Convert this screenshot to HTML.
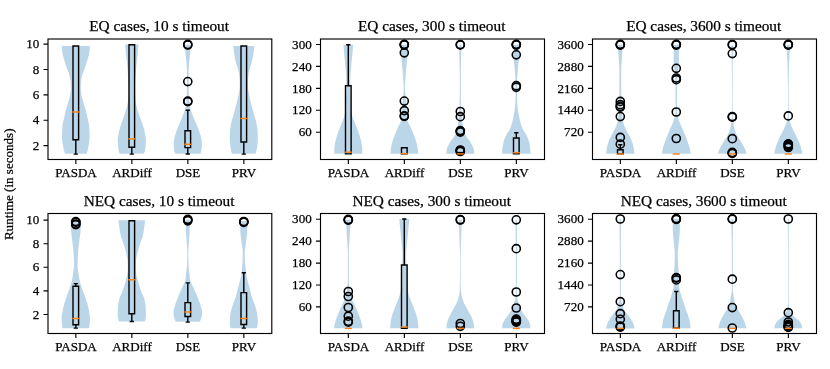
<!DOCTYPE html>
<html lang="en"><head><meta charset="utf-8"><title>Runtime violin plots</title>
<style>html,body{margin:0;padding:0;background:#fff}svg{display:block}text{font-family:"Liberation Serif",serif;fill:#000;stroke:#000;stroke-width:0.25px}</style>
</head><body>
<svg width="830" height="369" viewBox="0 0 830 369">
<rect width="830" height="369" fill="#fff"/>
<text transform="translate(12.7,184.3) rotate(-90)" text-anchor="middle" font-size="13.05">Runtime (in seconds)</text>
<g>
<text x="159.1" y="31.3" text-anchor="middle" font-size="15.3">EQ cases, 10 s timeout</text>
<path d="M61.80,46.00L61.82,47.00L61.87,48.00L61.93,49.00L62.00,50.00L62.10,51.00L62.23,52.00L62.39,53.00L62.56,54.00L62.76,55.00L63.01,56.00L63.29,57.00L63.59,58.00L63.91,59.00L64.22,60.00L64.53,61.00L64.84,62.00L65.15,63.00L65.47,64.00L65.80,65.00L66.13,66.00L66.46,67.00L66.80,68.00L67.15,69.00L67.53,70.00L67.91,71.00L68.29,72.00L68.65,73.00L68.97,74.00L69.25,75.00L69.52,76.00L69.79,77.00L70.04,78.00L70.26,79.00L70.44,80.00L70.56,81.00L70.63,82.00L70.67,83.00L70.71,84.00L70.75,85.00L70.77,86.00L70.79,87.00L70.80,88.00L70.79,89.00L70.73,90.00L70.63,91.00L70.52,92.00L70.40,93.00L70.26,94.00L70.08,95.00L69.86,96.00L69.63,97.00L69.39,98.00L69.15,99.00L68.90,100.00L68.62,101.00L68.34,102.00L68.04,103.00L67.74,104.00L67.45,105.00L67.15,106.00L66.85,107.00L66.54,108.00L66.23,109.00L65.93,110.00L65.64,111.00L65.37,112.00L65.14,113.00L64.92,114.00L64.71,115.00L64.51,116.00L64.30,117.00L64.07,118.00L63.83,119.00L63.58,120.00L63.35,121.00L63.14,122.00L62.97,123.00L62.81,124.00L62.67,125.00L62.53,126.00L62.41,127.00L62.30,128.00L62.23,129.00L62.18,130.00L62.13,131.00L62.09,132.00L62.06,133.00L62.03,134.00L62.01,135.00L62.00,136.00L62.01,137.00L62.05,138.00L62.12,139.00L62.21,140.00L62.30,141.00L62.41,142.00L62.56,143.00L62.73,144.00L62.90,145.00L63.07,146.00L63.26,147.00L63.45,148.00L63.66,149.00L63.90,150.00L64.17,151.00L64.48,152.00L64.81,153.00L65.10,153.80L86.50,153.80L86.79,153.00L87.12,152.00L87.43,151.00L87.70,150.00L87.94,149.00L88.15,148.00L88.34,147.00L88.53,146.00L88.70,145.00L88.87,144.00L89.04,143.00L89.19,142.00L89.30,141.00L89.39,140.00L89.48,139.00L89.55,138.00L89.59,137.00L89.60,136.00L89.59,135.00L89.57,134.00L89.54,133.00L89.51,132.00L89.47,131.00L89.42,130.00L89.37,129.00L89.30,128.00L89.19,127.00L89.07,126.00L88.93,125.00L88.79,124.00L88.63,123.00L88.46,122.00L88.25,121.00L88.02,120.00L87.77,119.00L87.53,118.00L87.30,117.00L87.09,116.00L86.89,115.00L86.68,114.00L86.46,113.00L86.23,112.00L85.96,111.00L85.67,110.00L85.37,109.00L85.06,108.00L84.75,107.00L84.45,106.00L84.15,105.00L83.86,104.00L83.56,103.00L83.26,102.00L82.98,101.00L82.70,100.00L82.45,99.00L82.21,98.00L81.97,97.00L81.74,96.00L81.52,95.00L81.34,94.00L81.20,93.00L81.08,92.00L80.97,91.00L80.87,90.00L80.81,89.00L80.80,88.00L80.81,87.00L80.83,86.00L80.85,85.00L80.89,84.00L80.93,83.00L80.97,82.00L81.04,81.00L81.16,80.00L81.34,79.00L81.56,78.00L81.81,77.00L82.08,76.00L82.35,75.00L82.63,74.00L82.95,73.00L83.31,72.00L83.69,71.00L84.07,70.00L84.45,69.00L84.80,68.00L85.14,67.00L85.47,66.00L85.80,65.00L86.13,64.00L86.45,63.00L86.76,62.00L87.07,61.00L87.38,60.00L87.69,59.00L88.01,58.00L88.31,57.00L88.59,56.00L88.84,55.00L89.04,54.00L89.21,53.00L89.37,52.00L89.50,51.00L89.60,50.00L89.67,49.00L89.73,48.00L89.78,47.00L89.80,46.00Z" fill="#bcd6e9"/>
<path d="M125.20,44.40L125.26,45.40L125.33,46.40L125.40,47.40L125.47,48.40L125.55,49.40L125.63,50.40L125.72,51.40L125.81,52.40L125.91,53.40L126.01,54.40L126.11,55.40L126.22,56.40L126.35,57.40L126.47,58.40L126.60,59.40L126.72,60.40L126.84,61.40L126.94,62.40L127.03,63.40L127.12,64.40L127.21,65.40L127.29,66.40L127.37,67.40L127.45,68.40L127.53,69.40L127.62,70.40L127.71,71.40L127.80,72.40L127.89,73.40L127.98,74.40L128.07,75.40L128.15,76.40L128.23,77.40L128.30,78.40L128.37,79.40L128.42,80.40L128.48,81.40L128.53,82.40L128.59,83.40L128.64,84.40L128.69,85.40L128.73,86.40L128.76,87.40L128.78,88.40L128.80,89.40L128.80,90.40L128.78,91.40L128.75,92.40L128.71,93.40L128.65,94.40L128.59,95.40L128.51,96.40L128.44,97.40L128.35,98.40L128.26,99.40L128.14,100.40L127.99,101.40L127.81,102.40L127.61,103.40L127.40,104.40L127.17,105.40L126.94,106.40L126.71,107.40L126.45,108.40L126.18,109.40L125.88,110.40L125.57,111.40L125.26,112.40L124.93,113.40L124.60,114.40L124.27,115.40L123.92,116.40L123.56,117.40L123.18,118.40L122.80,119.40L122.42,120.40L122.05,121.40L121.70,122.40L121.37,123.40L121.04,124.40L120.71,125.40L120.38,126.40L120.06,127.40L119.77,128.40L119.49,129.40L119.24,130.40L119.02,131.40L118.82,132.40L118.62,133.40L118.42,134.40L118.23,135.40L118.07,136.40L117.94,137.40L117.85,138.40L117.80,139.40L117.80,140.40L117.82,141.40L117.85,142.40L117.89,143.40L117.95,144.40L118.01,145.40L118.09,146.40L118.17,147.40L118.27,148.40L118.44,149.40L118.68,150.40L118.98,151.40L119.31,152.40L119.66,153.40L119.80,153.80L143.80,153.80L143.94,153.40L144.29,152.40L144.62,151.40L144.92,150.40L145.16,149.40L145.33,148.40L145.43,147.40L145.51,146.40L145.59,145.40L145.65,144.40L145.71,143.40L145.75,142.40L145.78,141.40L145.80,140.40L145.80,139.40L145.75,138.40L145.66,137.40L145.53,136.40L145.37,135.40L145.18,134.40L144.98,133.40L144.78,132.40L144.58,131.40L144.36,130.40L144.11,129.40L143.83,128.40L143.54,127.40L143.22,126.40L142.89,125.40L142.56,124.40L142.23,123.40L141.90,122.40L141.55,121.40L141.18,120.40L140.80,119.40L140.42,118.40L140.04,117.40L139.68,116.40L139.33,115.40L139.00,114.40L138.67,113.40L138.34,112.40L138.03,111.40L137.72,110.40L137.42,109.40L137.15,108.40L136.89,107.40L136.66,106.40L136.43,105.40L136.20,104.40L135.99,103.40L135.79,102.40L135.61,101.40L135.46,100.40L135.34,99.40L135.25,98.40L135.16,97.40L135.09,96.40L135.01,95.40L134.95,94.40L134.89,93.40L134.85,92.40L134.82,91.40L134.80,90.40L134.80,89.40L134.82,88.40L134.84,87.40L134.87,86.40L134.91,85.40L134.96,84.40L135.01,83.40L135.07,82.40L135.12,81.40L135.18,80.40L135.23,79.40L135.30,78.40L135.37,77.40L135.45,76.40L135.53,75.40L135.62,74.40L135.71,73.40L135.80,72.40L135.89,71.40L135.98,70.40L136.07,69.40L136.15,68.40L136.23,67.40L136.31,66.40L136.39,65.40L136.48,64.40L136.57,63.40L136.66,62.40L136.76,61.40L136.88,60.40L137.00,59.40L137.13,58.40L137.25,57.40L137.38,56.40L137.49,55.40L137.59,54.40L137.69,53.40L137.79,52.40L137.88,51.40L137.97,50.40L138.05,49.40L138.13,48.40L138.20,47.40L138.27,46.40L138.34,45.40L138.40,44.40Z" fill="#bcd6e9"/>
<path d="M184.60,44.70L184.70,45.70L184.80,46.70L184.90,47.70L185.00,48.70L185.10,49.70L185.20,50.70L185.29,51.70L185.39,52.70L185.48,53.70L185.57,54.70L185.67,55.70L185.77,56.70L185.87,57.70L185.98,58.70L186.09,59.70L186.21,60.70L186.32,61.70L186.43,62.70L186.53,63.70L186.63,64.70L186.72,65.70L186.80,66.70L186.87,67.70L186.93,68.70L186.97,69.70L186.99,70.70L187.00,71.70L187.00,72.70L187.00,73.70L187.00,74.70L187.00,75.70L187.00,76.70L187.00,77.70L187.00,78.70L187.00,79.70L187.00,80.70L187.00,81.70L187.00,82.70L186.99,83.70L186.98,84.70L186.97,85.70L186.96,86.70L186.95,87.70L186.93,88.70L186.91,89.70L186.89,90.70L186.87,91.70L186.85,92.70L186.83,93.70L186.81,94.70L186.78,95.70L186.75,96.70L186.70,97.70L186.65,98.70L186.59,99.70L186.52,100.70L186.44,101.70L186.32,102.70L186.17,103.70L185.99,104.70L185.80,105.70L185.59,106.70L185.37,107.70L185.13,108.70L184.86,109.70L184.55,110.70L184.21,111.70L183.86,112.70L183.50,113.70L183.14,114.70L182.77,115.70L182.38,116.70L181.98,117.70L181.57,118.70L181.15,119.70L180.73,120.70L180.32,121.70L179.89,122.70L179.46,123.70L179.02,124.70L178.58,125.70L178.15,126.70L177.74,127.70L177.34,128.70L176.96,129.70L176.59,130.70L176.24,131.70L175.90,132.70L175.57,133.70L175.23,134.70L174.91,135.70L174.63,136.70L174.42,137.70L174.26,138.70L174.11,139.70L173.97,140.70L173.86,141.70L173.77,142.70L173.71,143.70L173.70,144.70L173.73,145.70L173.80,146.70L173.90,147.70L174.02,148.70L174.16,149.70L174.32,150.70L174.55,151.70L174.84,152.70L175.17,153.70L175.20,153.80L200.40,153.80L200.43,153.70L200.76,152.70L201.05,151.70L201.28,150.70L201.44,149.70L201.58,148.70L201.70,147.70L201.80,146.70L201.87,145.70L201.90,144.70L201.89,143.70L201.83,142.70L201.74,141.70L201.63,140.70L201.49,139.70L201.34,138.70L201.18,137.70L200.97,136.70L200.69,135.70L200.37,134.70L200.03,133.70L199.70,132.70L199.36,131.70L199.01,130.70L198.64,129.70L198.26,128.70L197.86,127.70L197.45,126.70L197.02,125.70L196.58,124.70L196.14,123.70L195.71,122.70L195.28,121.70L194.87,120.70L194.45,119.70L194.03,118.70L193.62,117.70L193.22,116.70L192.83,115.70L192.46,114.70L192.10,113.70L191.74,112.70L191.39,111.70L191.05,110.70L190.74,109.70L190.47,108.70L190.23,107.70L190.01,106.70L189.80,105.70L189.61,104.70L189.43,103.70L189.28,102.70L189.16,101.70L189.08,100.70L189.01,99.70L188.95,98.70L188.90,97.70L188.85,96.70L188.82,95.70L188.79,94.70L188.77,93.70L188.75,92.70L188.73,91.70L188.71,90.70L188.69,89.70L188.67,88.70L188.65,87.70L188.64,86.70L188.63,85.70L188.62,84.70L188.61,83.70L188.60,82.70L188.60,81.70L188.60,80.70L188.60,79.70L188.60,78.70L188.60,77.70L188.60,76.70L188.60,75.70L188.60,74.70L188.60,73.70L188.60,72.70L188.60,71.70L188.61,70.70L188.63,69.70L188.67,68.70L188.73,67.70L188.80,66.70L188.88,65.70L188.97,64.70L189.07,63.70L189.17,62.70L189.28,61.70L189.39,60.70L189.51,59.70L189.62,58.70L189.73,57.70L189.83,56.70L189.93,55.70L190.03,54.70L190.12,53.70L190.21,52.70L190.31,51.70L190.40,50.70L190.50,49.70L190.60,48.70L190.70,47.70L190.80,46.70L190.90,45.70L191.00,44.70Z" fill="#bcd6e9"/>
<path d="M233.40,46.00L233.42,47.00L233.46,48.00L233.53,49.00L233.60,50.00L233.70,51.00L233.85,52.00L234.03,53.00L234.22,54.00L234.40,55.00L234.58,56.00L234.76,57.00L234.95,58.00L235.14,59.00L235.35,60.00L235.57,61.00L235.80,62.00L236.07,63.00L236.38,64.00L236.72,65.00L237.06,66.00L237.39,67.00L237.69,68.00L237.95,69.00L238.19,70.00L238.42,71.00L238.64,72.00L238.84,73.00L239.01,74.00L239.15,75.00L239.24,76.00L239.33,77.00L239.41,78.00L239.48,79.00L239.54,80.00L239.58,81.00L239.60,82.00L239.60,83.00L239.60,84.00L239.60,85.00L239.60,86.00L239.60,87.00L239.57,88.00L239.48,89.00L239.35,90.00L239.19,91.00L239.03,92.00L238.87,93.00L238.70,94.00L238.51,95.00L238.30,96.00L238.07,97.00L237.85,98.00L237.61,99.00L237.39,100.00L237.15,101.00L236.91,102.00L236.66,103.00L236.40,104.00L236.14,105.00L235.88,106.00L235.61,107.00L235.34,108.00L235.06,109.00L234.78,110.00L234.50,111.00L234.22,112.00L233.95,113.00L233.67,114.00L233.40,115.00L233.12,116.00L232.82,117.00L232.51,118.00L232.21,119.00L231.92,120.00L231.65,121.00L231.41,122.00L231.20,123.00L231.01,124.00L230.83,125.00L230.65,126.00L230.48,127.00L230.33,128.00L230.20,129.00L230.10,130.00L230.03,131.00L229.98,132.00L229.94,133.00L229.91,134.00L229.87,135.00L229.85,136.00L229.83,137.00L229.81,138.00L229.80,139.00L229.80,140.00L229.83,141.00L229.90,142.00L229.99,143.00L230.10,144.00L230.23,145.00L230.36,146.00L230.50,147.00L230.65,148.00L230.83,149.00L231.04,150.00L231.27,151.00L231.51,152.00L231.78,153.00L232.00,153.80L255.60,153.80L255.82,153.00L256.09,152.00L256.33,151.00L256.56,150.00L256.77,149.00L256.95,148.00L257.10,147.00L257.24,146.00L257.37,145.00L257.50,144.00L257.61,143.00L257.70,142.00L257.77,141.00L257.80,140.00L257.80,139.00L257.79,138.00L257.77,137.00L257.75,136.00L257.73,135.00L257.69,134.00L257.66,133.00L257.62,132.00L257.57,131.00L257.50,130.00L257.40,129.00L257.27,128.00L257.12,127.00L256.95,126.00L256.77,125.00L256.59,124.00L256.40,123.00L256.19,122.00L255.95,121.00L255.68,120.00L255.39,119.00L255.09,118.00L254.78,117.00L254.48,116.00L254.20,115.00L253.93,114.00L253.65,113.00L253.38,112.00L253.10,111.00L252.82,110.00L252.54,109.00L252.26,108.00L251.99,107.00L251.72,106.00L251.46,105.00L251.20,104.00L250.94,103.00L250.69,102.00L250.45,101.00L250.21,100.00L249.99,99.00L249.75,98.00L249.53,97.00L249.30,96.00L249.09,95.00L248.90,94.00L248.73,93.00L248.57,92.00L248.41,91.00L248.25,90.00L248.12,89.00L248.03,88.00L248.00,87.00L248.00,86.00L248.00,85.00L248.00,84.00L248.00,83.00L248.00,82.00L248.02,81.00L248.06,80.00L248.12,79.00L248.19,78.00L248.27,77.00L248.36,76.00L248.45,75.00L248.59,74.00L248.76,73.00L248.96,72.00L249.18,71.00L249.41,70.00L249.65,69.00L249.91,68.00L250.21,67.00L250.54,66.00L250.88,65.00L251.22,64.00L251.53,63.00L251.80,62.00L252.03,61.00L252.25,60.00L252.46,59.00L252.65,58.00L252.84,57.00L253.02,56.00L253.20,55.00L253.38,54.00L253.57,53.00L253.75,52.00L253.90,51.00L254.00,50.00L254.07,49.00L254.14,48.00L254.18,47.00L254.20,46.00Z" fill="#bcd6e9"/>
<path d="M75.80,139.80V154.10M74.40,46.00H77.20M74.40,154.10H77.20M73.00,139.80H78.60V46.00H73.00Z" fill="none" stroke="#000" stroke-width="1.42" stroke-linecap="square" stroke-linejoin="miter"/>
<path d="M73.00,112.00H78.60" stroke="#ff7f0e" stroke-width="1.42" stroke-linecap="square" fill="none"/>
<path d="M131.80,147.30V154.10M130.40,44.80H133.20M130.40,154.10H133.20M129.00,147.30H134.60V44.80H129.00Z" fill="none" stroke="#000" stroke-width="1.42" stroke-linecap="square" stroke-linejoin="miter"/>
<path d="M129.00,138.80H134.60" stroke="#ff7f0e" stroke-width="1.42" stroke-linecap="square" fill="none"/>
<path d="M187.80,130.70V110.20M187.80,147.60V154.00M186.40,110.20H189.20M186.40,154.00H189.20M185.00,147.60H190.60V130.70H185.00Z" fill="none" stroke="#000" stroke-width="1.42" stroke-linecap="square" stroke-linejoin="miter"/>
<circle cx="187.80" cy="44.40" r="4.05" fill="none" stroke="#000" stroke-width="1.58"/>
<circle cx="187.80" cy="45.00" r="4.05" fill="none" stroke="#000" stroke-width="1.58"/>
<circle cx="187.80" cy="81.60" r="4.05" fill="none" stroke="#000" stroke-width="1.58"/>
<circle cx="187.80" cy="101.10" r="4.05" fill="none" stroke="#000" stroke-width="1.58"/>
<circle cx="187.80" cy="101.70" r="4.05" fill="none" stroke="#000" stroke-width="1.58"/>
<path d="M185.00,144.30H190.60" stroke="#ff7f0e" stroke-width="1.42" stroke-linecap="square" fill="none"/>
<path d="M243.80,142.00V154.10M242.40,46.00H245.20M242.40,154.10H245.20M241.00,142.00H246.60V46.00H241.00Z" fill="none" stroke="#000" stroke-width="1.42" stroke-linecap="square" stroke-linejoin="miter"/>
<path d="M241.00,118.50H246.60" stroke="#ff7f0e" stroke-width="1.42" stroke-linecap="square" fill="none"/>
<path d="M48.00,44.10h-4.5M48.00,69.50h-4.5M48.00,94.85h-4.5M48.00,120.20h-4.5M48.00,145.60h-4.5M75.85,159.50v4.4M131.85,159.50v4.4M187.85,159.50v4.4M243.85,159.50v4.4" stroke="#000" stroke-width="1.14" fill="none"/>
<text x="39.2" y="48.25" text-anchor="end" font-size="13.05">10</text>
<text x="39.2" y="73.65" text-anchor="end" font-size="13.05">8</text>
<text x="39.2" y="99.00" text-anchor="end" font-size="13.05">6</text>
<text x="39.2" y="124.35" text-anchor="end" font-size="13.05">4</text>
<text x="39.2" y="149.75" text-anchor="end" font-size="13.05">2</text>
<text x="76.0" y="177.2" text-anchor="middle" font-size="13.05">PASDA</text>
<text x="132.0" y="177.2" text-anchor="middle" font-size="13.05">ARDiff</text>
<text x="188.0" y="177.2" text-anchor="middle" font-size="13.05">DSE</text>
<text x="244.0" y="177.2" text-anchor="middle" font-size="13.05">PRV</text>
<rect x="48.00" y="39.00" width="223.80" height="120.50" fill="none" stroke="#000" stroke-width="1.14"/>
</g>
<g>
<text x="431.7" y="31.3" text-anchor="middle" font-size="15.3">EQ cases, 300 s timeout</text>
<path d="M343.40,44.70L343.48,45.70L343.56,46.70L343.65,47.70L343.73,48.70L343.82,49.70L343.91,50.70L344.00,51.70L344.09,52.70L344.18,53.70L344.27,54.70L344.37,55.70L344.47,56.70L344.57,57.70L344.68,58.70L344.78,59.70L344.89,60.70L344.99,61.70L345.09,62.70L345.19,63.70L345.27,64.70L345.36,65.70L345.45,66.70L345.54,67.70L345.63,68.70L345.72,69.70L345.81,70.70L345.90,71.70L345.98,72.70L346.06,73.70L346.13,74.70L346.19,75.70L346.24,76.70L346.27,77.70L346.29,78.70L346.30,79.70L346.30,80.70L346.30,81.70L346.29,82.70L346.28,83.70L346.27,84.70L346.26,85.70L346.25,86.70L346.23,87.70L346.22,88.70L346.20,89.70L346.18,90.70L346.16,91.70L346.14,92.70L346.12,93.70L346.10,94.70L346.08,95.70L346.05,96.70L346.03,97.70L346.01,98.70L345.98,99.70L345.96,100.70L345.93,101.70L345.89,102.70L345.85,103.70L345.81,104.70L345.77,105.70L345.71,106.70L345.66,107.70L345.59,108.70L345.52,109.70L345.44,110.70L345.31,111.70L345.15,112.70L344.96,113.70L344.74,114.70L344.46,115.70L344.14,116.70L343.79,117.70L343.44,118.70L343.07,119.70L342.68,120.70L342.27,121.70L341.85,122.70L341.43,123.70L341.02,124.70L340.62,125.70L340.23,126.70L339.83,127.70L339.44,128.70L339.05,129.70L338.67,130.70L338.31,131.70L337.96,132.70L337.63,133.70L337.30,134.70L336.99,135.70L336.69,136.70L336.40,137.70L336.11,138.70L335.84,139.70L335.59,140.70L335.36,141.70L335.16,142.70L334.96,143.70L334.77,144.70L334.60,145.70L334.47,146.70L334.40,147.70L334.37,148.70L334.35,149.70L334.33,150.70L334.31,151.70L334.30,152.70L334.30,153.70L334.30,153.80L362.30,153.80L362.30,153.70L362.30,152.70L362.29,151.70L362.27,150.70L362.25,149.70L362.23,148.70L362.20,147.70L362.13,146.70L362.00,145.70L361.83,144.70L361.64,143.70L361.44,142.70L361.24,141.70L361.01,140.70L360.76,139.70L360.49,138.70L360.20,137.70L359.91,136.70L359.61,135.70L359.30,134.70L358.97,133.70L358.64,132.70L358.29,131.70L357.93,130.70L357.55,129.70L357.16,128.70L356.77,127.70L356.37,126.70L355.98,125.70L355.58,124.70L355.17,123.70L354.75,122.70L354.33,121.70L353.92,120.70L353.53,119.70L353.16,118.70L352.81,117.70L352.46,116.70L352.14,115.70L351.86,114.70L351.64,113.70L351.45,112.70L351.29,111.70L351.16,110.70L351.08,109.70L351.01,108.70L350.94,107.70L350.89,106.70L350.83,105.70L350.79,104.70L350.75,103.70L350.71,102.70L350.67,101.70L350.64,100.70L350.62,99.70L350.59,98.70L350.57,97.70L350.55,96.70L350.52,95.70L350.50,94.70L350.48,93.70L350.46,92.70L350.44,91.70L350.42,90.70L350.40,89.70L350.38,88.70L350.37,87.70L350.35,86.70L350.34,85.70L350.33,84.70L350.32,83.70L350.31,82.70L350.30,81.70L350.30,80.70L350.30,79.70L350.31,78.70L350.33,77.70L350.36,76.70L350.41,75.70L350.47,74.70L350.54,73.70L350.62,72.70L350.70,71.70L350.79,70.70L350.88,69.70L350.97,68.70L351.06,67.70L351.15,66.70L351.24,65.70L351.33,64.70L351.41,63.70L351.51,62.70L351.61,61.70L351.71,60.70L351.82,59.70L351.92,58.70L352.03,57.70L352.13,56.70L352.23,55.70L352.33,54.70L352.42,53.70L352.51,52.70L352.60,51.70L352.69,50.70L352.78,49.70L352.87,48.70L352.95,47.70L353.04,46.70L353.12,45.70L353.20,44.70Z" fill="#bcd6e9"/>
<path d="M400.70,44.70L400.71,45.70L400.73,46.70L400.76,47.70L400.79,48.70L400.83,49.70L400.88,50.70L400.92,51.70L400.97,52.70L401.03,53.70L401.08,54.70L401.14,55.70L401.22,56.70L401.31,57.70L401.41,58.70L401.52,59.70L401.64,60.70L401.75,61.70L401.87,62.70L401.97,63.70L402.07,64.70L402.16,65.70L402.25,66.70L402.34,67.70L402.43,68.70L402.52,69.70L402.60,70.70L402.69,71.70L402.77,72.70L402.85,73.70L402.93,74.70L403.01,75.70L403.08,76.70L403.15,77.70L403.22,78.70L403.28,79.70L403.34,80.70L403.41,81.70L403.48,82.70L403.54,83.70L403.60,84.70L403.65,85.70L403.68,86.70L403.70,87.70L403.69,88.70L403.66,89.70L403.60,90.70L403.53,91.70L403.44,92.70L403.34,93.70L403.23,94.70L403.12,95.70L403.01,96.70L402.91,97.70L402.82,98.70L402.75,99.70L402.67,100.70L402.60,101.70L402.52,102.70L402.45,103.70L402.38,104.70L402.31,105.70L402.23,106.70L402.16,107.70L402.09,108.70L402.02,109.70L401.95,110.70L401.90,111.70L401.85,112.70L401.80,113.70L401.75,114.70L401.70,115.70L401.63,116.70L401.55,117.70L401.46,118.70L401.34,119.70L401.12,120.70L400.65,121.70L400.15,122.70L399.69,123.70L399.23,124.70L398.75,125.70L398.28,126.70L397.81,127.70L397.35,128.70L396.91,129.70L396.50,130.70L396.09,131.70L395.69,132.70L395.29,133.70L394.91,134.70L394.53,135.70L394.15,136.70L393.76,137.70L393.38,138.70L393.02,139.70L392.69,140.70L392.40,141.70L392.12,142.70L391.85,143.70L391.60,144.70L391.37,145.70L391.18,146.70L391.01,147.70L390.88,148.70L390.75,149.70L390.63,150.70L390.54,151.70L390.46,152.70L390.40,153.70L390.40,153.80L418.20,153.80L418.20,153.70L418.14,152.70L418.06,151.70L417.97,150.70L417.85,149.70L417.72,148.70L417.59,147.70L417.42,146.70L417.23,145.70L417.00,144.70L416.75,143.70L416.48,142.70L416.20,141.70L415.91,140.70L415.58,139.70L415.22,138.70L414.84,137.70L414.45,136.70L414.07,135.70L413.69,134.70L413.31,133.70L412.91,132.70L412.51,131.70L412.10,130.70L411.69,129.70L411.25,128.70L410.79,127.70L410.32,126.70L409.85,125.70L409.37,124.70L408.91,123.70L408.45,122.70L407.95,121.70L407.48,120.70L407.26,119.70L407.14,118.70L407.05,117.70L406.97,116.70L406.90,115.70L406.85,114.70L406.80,113.70L406.75,112.70L406.70,111.70L406.65,110.70L406.58,109.70L406.51,108.70L406.44,107.70L406.37,106.70L406.29,105.70L406.22,104.70L406.15,103.70L406.08,102.70L406.00,101.70L405.93,100.70L405.85,99.70L405.78,98.70L405.69,97.70L405.59,96.70L405.48,95.70L405.37,94.70L405.26,93.70L405.16,92.70L405.07,91.70L405.00,90.70L404.94,89.70L404.91,88.70L404.90,87.70L404.92,86.70L404.95,85.70L405.00,84.70L405.06,83.70L405.12,82.70L405.19,81.70L405.26,80.70L405.32,79.70L405.38,78.70L405.45,77.70L405.52,76.70L405.59,75.70L405.67,74.70L405.75,73.70L405.83,72.70L405.91,71.70L406.00,70.70L406.08,69.70L406.17,68.70L406.26,67.70L406.35,66.70L406.44,65.70L406.53,64.70L406.63,63.70L406.73,62.70L406.85,61.70L406.96,60.70L407.08,59.70L407.19,58.70L407.29,57.70L407.38,56.70L407.46,55.70L407.52,54.70L407.57,53.70L407.63,52.70L407.68,51.70L407.72,50.70L407.77,49.70L407.81,48.70L407.84,47.70L407.87,46.70L407.89,45.70L407.90,44.70Z" fill="#bcd6e9"/>
<path d="M459.10,44.70L459.13,45.70L459.16,46.70L459.19,47.70L459.22,48.70L459.25,49.70L459.28,50.70L459.30,51.70L459.33,52.70L459.36,53.70L459.38,54.70L459.41,55.70L459.43,56.70L459.45,57.70L459.47,58.70L459.49,59.70L459.51,60.70L459.53,61.70L459.55,62.70L459.57,63.70L459.59,64.70L459.62,65.70L459.64,66.70L459.66,67.70L459.67,68.70L459.69,69.70L459.71,70.70L459.73,71.70L459.74,72.70L459.76,73.70L459.77,74.70L459.78,75.70L459.79,76.70L459.79,77.70L459.80,78.70L459.80,79.70L459.80,80.70L459.80,81.70L459.80,82.70L459.80,83.70L459.79,84.70L459.79,85.70L459.79,86.70L459.78,87.70L459.78,88.70L459.77,89.70L459.77,90.70L459.76,91.70L459.75,92.70L459.74,93.70L459.73,94.70L459.72,95.70L459.71,96.70L459.70,97.70L459.69,98.70L459.68,99.70L459.67,100.70L459.65,101.70L459.64,102.70L459.62,103.70L459.61,104.70L459.58,105.70L459.54,106.70L459.47,107.70L459.39,108.70L459.30,109.70L459.21,110.70L459.13,111.70L459.04,112.70L458.95,113.70L458.85,114.70L458.74,115.70L458.63,116.70L458.53,117.70L458.43,118.70L458.33,119.70L458.24,120.70L458.16,121.70L458.09,122.70L458.02,123.70L457.94,124.70L457.85,125.70L457.74,126.70L457.59,127.70L457.39,128.70L457.14,129.70L456.85,130.70L456.53,131.70L456.17,132.70L455.73,133.70L455.24,134.70L454.70,135.70L454.12,136.70L453.43,137.70L452.59,138.70L451.74,139.70L451.04,140.70L450.41,141.70L449.83,142.70L449.29,143.70L448.76,144.70L448.22,145.70L447.67,146.70L447.22,147.70L446.96,148.70L446.77,149.70L446.62,150.70L446.49,151.70L446.39,152.70L446.31,153.70L446.30,153.80L474.30,153.80L474.29,153.70L474.21,152.70L474.11,151.70L473.98,150.70L473.83,149.70L473.64,148.70L473.38,147.70L472.93,146.70L472.38,145.70L471.84,144.70L471.31,143.70L470.77,142.70L470.19,141.70L469.56,140.70L468.86,139.70L468.01,138.70L467.17,137.70L466.48,136.70L465.90,135.70L465.36,134.70L464.87,133.70L464.43,132.70L464.07,131.70L463.75,130.70L463.46,129.70L463.21,128.70L463.01,127.70L462.86,126.70L462.75,125.70L462.66,124.70L462.58,123.70L462.51,122.70L462.44,121.70L462.36,120.70L462.27,119.70L462.17,118.70L462.07,117.70L461.97,116.70L461.86,115.70L461.75,114.70L461.65,113.70L461.56,112.70L461.47,111.70L461.39,110.70L461.30,109.70L461.21,108.70L461.13,107.70L461.06,106.70L461.02,105.70L460.99,104.70L460.98,103.70L460.96,102.70L460.95,101.70L460.93,100.70L460.92,99.70L460.91,98.70L460.90,97.70L460.89,96.70L460.88,95.70L460.87,94.70L460.86,93.70L460.85,92.70L460.84,91.70L460.83,90.70L460.83,89.70L460.82,88.70L460.82,87.70L460.81,86.70L460.81,85.70L460.81,84.70L460.80,83.70L460.80,82.70L460.80,81.70L460.80,80.70L460.80,79.70L460.80,78.70L460.81,77.70L460.81,76.70L460.82,75.70L460.83,74.70L460.84,73.70L460.86,72.70L460.87,71.70L460.89,70.70L460.91,69.70L460.93,68.70L460.94,67.70L460.96,66.70L460.98,65.70L461.01,64.70L461.03,63.70L461.05,62.70L461.07,61.70L461.09,60.70L461.11,59.70L461.13,58.70L461.15,57.70L461.17,56.70L461.19,55.70L461.22,54.70L461.24,53.70L461.27,52.70L461.30,51.70L461.32,50.70L461.35,49.70L461.38,48.70L461.41,47.70L461.44,46.70L461.47,45.70L461.50,44.70Z" fill="#bcd6e9"/>
<path d="M513.30,44.70L513.30,45.70L513.31,46.70L513.32,47.70L513.34,48.70L513.36,49.70L513.38,50.70L513.40,51.70L513.43,52.70L513.46,53.70L513.49,54.70L513.53,55.70L513.58,56.70L513.65,57.70L513.73,58.70L513.81,59.70L513.91,60.70L514.00,61.70L514.10,62.70L514.19,63.70L514.28,64.70L514.36,65.70L514.44,66.70L514.53,67.70L514.63,68.70L514.73,69.70L514.82,70.70L514.92,71.70L515.01,72.70L515.10,73.70L515.17,74.70L515.24,75.70L515.30,76.70L515.35,77.70L515.38,78.70L515.40,79.70L515.41,80.70L515.42,81.70L515.43,82.70L515.44,83.70L515.44,84.70L515.45,85.70L515.46,86.70L515.47,87.70L515.47,88.70L515.48,89.70L515.48,90.70L515.49,91.70L515.49,92.70L515.49,93.70L515.49,94.70L515.50,95.70L515.50,96.70L515.50,97.70L515.50,98.70L515.49,99.70L515.47,100.70L515.42,101.70L515.37,102.70L515.29,103.70L515.21,104.70L515.12,105.70L515.03,106.70L514.93,107.70L514.83,108.70L514.70,109.70L514.54,110.70L514.38,111.70L514.19,112.70L514.01,113.70L513.81,114.70L513.62,115.70L513.43,116.70L513.23,117.70L513.03,118.70L512.81,119.70L512.59,120.70L512.35,121.70L512.09,122.70L511.82,123.70L511.52,124.70L511.19,125.70L510.84,126.70L510.45,127.70L510.03,128.70L509.56,129.70L508.98,130.70L508.33,131.70L507.65,132.70L506.98,133.70L506.37,134.70L505.85,135.70L505.40,136.70L504.98,137.70L504.58,138.70L504.21,139.70L503.88,140.70L503.60,141.70L503.36,142.70L503.14,143.70L502.94,144.70L502.75,145.70L502.59,146.70L502.45,147.70L502.35,148.70L502.27,149.70L502.21,150.70L502.15,151.70L502.12,152.70L502.10,153.70L502.10,153.80L530.50,153.80L530.50,153.70L530.48,152.70L530.45,151.70L530.39,150.70L530.33,149.70L530.25,148.70L530.15,147.70L530.01,146.70L529.85,145.70L529.66,144.70L529.46,143.70L529.24,142.70L529.00,141.70L528.72,140.70L528.39,139.70L528.02,138.70L527.62,137.70L527.20,136.70L526.75,135.70L526.23,134.70L525.62,133.70L524.95,132.70L524.27,131.70L523.62,130.70L523.04,129.70L522.57,128.70L522.15,127.70L521.76,126.70L521.41,125.70L521.08,124.70L520.78,123.70L520.51,122.70L520.25,121.70L520.01,120.70L519.79,119.70L519.57,118.70L519.37,117.70L519.17,116.70L518.98,115.70L518.79,114.70L518.59,113.70L518.41,112.70L518.22,111.70L518.06,110.70L517.90,109.70L517.77,108.70L517.67,107.70L517.57,106.70L517.48,105.70L517.39,104.70L517.31,103.70L517.23,102.70L517.18,101.70L517.13,100.70L517.11,99.70L517.10,98.70L517.10,97.70L517.10,96.70L517.10,95.70L517.11,94.70L517.11,93.70L517.11,92.70L517.11,91.70L517.12,90.70L517.12,89.70L517.13,88.70L517.13,87.70L517.14,86.70L517.15,85.70L517.16,84.70L517.16,83.70L517.17,82.70L517.18,81.70L517.19,80.70L517.20,79.70L517.22,78.70L517.25,77.70L517.30,76.70L517.36,75.70L517.43,74.70L517.50,73.70L517.59,72.70L517.68,71.70L517.78,70.70L517.87,69.70L517.97,68.70L518.07,67.70L518.16,66.70L518.24,65.70L518.32,64.70L518.41,63.70L518.50,62.70L518.60,61.70L518.69,60.70L518.79,59.70L518.87,58.70L518.95,57.70L519.02,56.70L519.07,55.70L519.11,54.70L519.14,53.70L519.17,52.70L519.20,51.70L519.22,50.70L519.24,49.70L519.26,48.70L519.28,47.70L519.29,46.70L519.30,45.70L519.30,44.70Z" fill="#bcd6e9"/>
<path d="M348.30,85.70V44.70M346.90,44.70H349.70M346.90,153.90H349.70M345.50,153.90H351.10V85.70H345.50Z" fill="none" stroke="#000" stroke-width="1.42" stroke-linecap="square" stroke-linejoin="miter"/>
<path d="M345.50,152.20H351.10" stroke="#ff7f0e" stroke-width="1.42" stroke-linecap="square" fill="none"/>
<path d="M401.50,153.90H407.10V147.80H401.50Z" fill="none" stroke="#000" stroke-width="1.42" stroke-linecap="square" stroke-linejoin="miter"/>
<circle cx="404.30" cy="44.30" r="4.05" fill="none" stroke="#000" stroke-width="1.58"/>
<circle cx="404.30" cy="44.70" r="4.05" fill="none" stroke="#000" stroke-width="1.58"/>
<circle cx="404.30" cy="45.10" r="4.05" fill="none" stroke="#000" stroke-width="1.58"/>
<circle cx="404.30" cy="52.80" r="4.05" fill="none" stroke="#000" stroke-width="1.58"/>
<circle cx="404.30" cy="101.10" r="4.05" fill="none" stroke="#000" stroke-width="1.58"/>
<circle cx="404.30" cy="110.70" r="4.05" fill="none" stroke="#000" stroke-width="1.58"/>
<circle cx="404.30" cy="115.80" r="4.05" fill="none" stroke="#000" stroke-width="1.58"/>
<circle cx="404.30" cy="116.40" r="4.05" fill="none" stroke="#000" stroke-width="1.58"/>
<path d="M401.50,153.60H407.10" stroke="#ff7f0e" stroke-width="1.42" stroke-linecap="square" fill="none"/>
<path d="M457.50,153.90H463.10V152.60H457.50Z" fill="none" stroke="#000" stroke-width="1.42" stroke-linecap="square" stroke-linejoin="miter"/>
<circle cx="460.30" cy="44.55" r="4.05" fill="none" stroke="#000" stroke-width="1.58"/>
<circle cx="460.30" cy="44.90" r="4.05" fill="none" stroke="#000" stroke-width="1.58"/>
<circle cx="460.30" cy="111.50" r="4.05" fill="none" stroke="#000" stroke-width="1.58"/>
<circle cx="460.30" cy="116.70" r="4.05" fill="none" stroke="#000" stroke-width="1.58"/>
<circle cx="460.30" cy="130.60" r="4.05" fill="none" stroke="#000" stroke-width="1.58"/>
<circle cx="460.30" cy="131.30" r="4.05" fill="none" stroke="#000" stroke-width="1.58"/>
<circle cx="460.30" cy="132.10" r="4.05" fill="none" stroke="#000" stroke-width="1.58"/>
<circle cx="460.30" cy="150.00" r="4.05" fill="none" stroke="#000" stroke-width="1.58"/>
<circle cx="460.30" cy="150.50" r="4.05" fill="none" stroke="#000" stroke-width="1.58"/>
<circle cx="460.30" cy="151.00" r="4.05" fill="none" stroke="#000" stroke-width="1.58"/>
<circle cx="460.30" cy="151.50" r="4.05" fill="none" stroke="#000" stroke-width="1.58"/>
<path d="M457.50,153.90H463.10" stroke="#ff7f0e" stroke-width="1.42" stroke-linecap="square" fill="none"/>
<path d="M516.30,138.00V132.70M514.90,132.70H517.70M514.90,153.90H517.70M513.50,153.90H519.10V138.00H513.50Z" fill="none" stroke="#000" stroke-width="1.42" stroke-linecap="square" stroke-linejoin="miter"/>
<circle cx="516.30" cy="44.30" r="4.05" fill="none" stroke="#000" stroke-width="1.58"/>
<circle cx="516.30" cy="44.70" r="4.05" fill="none" stroke="#000" stroke-width="1.58"/>
<circle cx="516.30" cy="45.10" r="4.05" fill="none" stroke="#000" stroke-width="1.58"/>
<circle cx="516.30" cy="54.80" r="4.05" fill="none" stroke="#000" stroke-width="1.58"/>
<circle cx="516.30" cy="85.70" r="4.05" fill="none" stroke="#000" stroke-width="1.58"/>
<circle cx="516.30" cy="87.30" r="4.05" fill="none" stroke="#000" stroke-width="1.58"/>
<path d="M513.50,152.70H519.10" stroke="#ff7f0e" stroke-width="1.42" stroke-linecap="square" fill="none"/>
<path d="M320.50,44.50h-4.5M320.50,66.43h-4.5M320.50,88.36h-4.5M320.50,110.29h-4.5M320.50,132.22h-4.5M348.35,159.50v4.4M404.35,159.50v4.4M460.35,159.50v4.4M516.35,159.50v4.4" stroke="#000" stroke-width="1.14" fill="none"/>
<text x="311.7" y="48.65" text-anchor="end" font-size="13.05">300</text>
<text x="311.7" y="70.58" text-anchor="end" font-size="13.05">240</text>
<text x="311.7" y="92.51" text-anchor="end" font-size="13.05">180</text>
<text x="311.7" y="114.44" text-anchor="end" font-size="13.05">120</text>
<text x="311.7" y="136.37" text-anchor="end" font-size="13.05">60</text>
<text x="348.5" y="177.2" text-anchor="middle" font-size="13.05">PASDA</text>
<text x="404.5" y="177.2" text-anchor="middle" font-size="13.05">ARDiff</text>
<text x="460.5" y="177.2" text-anchor="middle" font-size="13.05">DSE</text>
<text x="516.5" y="177.2" text-anchor="middle" font-size="13.05">PRV</text>
<rect x="320.50" y="39.00" width="224.00" height="120.50" fill="none" stroke="#000" stroke-width="1.14"/>
</g>
<g>
<text x="703.7" y="31.3" text-anchor="middle" font-size="15.3">EQ cases, 3600 s timeout</text>
<path d="M618.10,44.70L618.13,45.70L618.17,46.70L618.20,47.70L618.24,48.70L618.28,49.70L618.32,50.70L618.36,51.70L618.40,52.70L618.44,53.70L618.49,54.70L618.53,55.70L618.59,56.70L618.65,57.70L618.72,58.70L618.79,59.70L618.86,60.70L618.93,61.70L619.00,62.70L619.07,63.70L619.14,64.70L619.20,65.70L619.26,66.70L619.31,67.70L619.35,68.70L619.38,69.70L619.40,70.70L619.40,71.70L619.40,72.70L619.40,73.70L619.40,74.70L619.40,75.70L619.40,76.70L619.40,77.70L619.39,78.70L619.39,79.70L619.39,80.70L619.39,81.70L619.38,82.70L619.38,83.70L619.38,84.70L619.37,85.70L619.37,86.70L619.37,87.70L619.36,88.70L619.36,89.70L619.35,90.70L619.35,91.70L619.34,92.70L619.34,93.70L619.33,94.70L619.32,95.70L619.32,96.70L619.31,97.70L619.30,98.70L619.29,99.70L619.28,100.70L619.25,101.70L619.22,102.70L619.19,103.70L619.15,104.70L619.10,105.70L619.06,106.70L619.01,107.70L618.97,108.70L618.91,109.70L618.85,110.70L618.78,111.70L618.71,112.70L618.62,113.70L618.53,114.70L618.43,115.70L618.31,116.70L618.18,117.70L618.03,118.70L617.87,119.70L617.68,120.70L617.48,121.70L617.27,122.70L617.02,123.70L616.71,124.70L616.33,125.70L615.89,126.70L615.41,127.70L614.91,128.70L614.40,129.70L613.89,130.70L613.40,131.70L612.90,132.70L612.36,133.70L611.80,134.70L611.24,135.70L610.70,136.70L610.18,137.70L609.71,138.70L609.30,139.70L608.93,140.70L608.57,141.70L608.24,142.70L607.92,143.70L607.62,144.70L607.36,145.70L607.12,146.70L606.92,147.70L606.74,148.70L606.58,149.70L606.43,150.70L606.30,151.70L606.19,152.70L606.11,153.70L606.10,153.80L634.50,153.80L634.49,153.70L634.41,152.70L634.30,151.70L634.17,150.70L634.02,149.70L633.86,148.70L633.68,147.70L633.48,146.70L633.24,145.70L632.98,144.70L632.68,143.70L632.36,142.70L632.03,141.70L631.67,140.70L631.30,139.70L630.89,138.70L630.42,137.70L629.90,136.70L629.36,135.70L628.80,134.70L628.24,133.70L627.70,132.70L627.20,131.70L626.71,130.70L626.20,129.70L625.69,128.70L625.19,127.70L624.71,126.70L624.27,125.70L623.89,124.70L623.58,123.70L623.33,122.70L623.12,121.70L622.92,120.70L622.73,119.70L622.57,118.70L622.42,117.70L622.29,116.70L622.17,115.70L622.07,114.70L621.98,113.70L621.89,112.70L621.82,111.70L621.75,110.70L621.69,109.70L621.63,108.70L621.59,107.70L621.54,106.70L621.50,105.70L621.45,104.70L621.41,103.70L621.38,102.70L621.35,101.70L621.32,100.70L621.31,99.70L621.30,98.70L621.29,97.70L621.28,96.70L621.28,95.70L621.27,94.70L621.26,93.70L621.26,92.70L621.25,91.70L621.25,90.70L621.24,89.70L621.24,88.70L621.23,87.70L621.23,86.70L621.23,85.70L621.22,84.70L621.22,83.70L621.22,82.70L621.21,81.70L621.21,80.70L621.21,79.70L621.21,78.70L621.20,77.70L621.20,76.70L621.20,75.70L621.20,74.70L621.20,73.70L621.20,72.70L621.20,71.70L621.20,70.70L621.22,69.70L621.25,68.70L621.29,67.70L621.34,66.70L621.40,65.70L621.46,64.70L621.53,63.70L621.60,62.70L621.67,61.70L621.74,60.70L621.81,59.70L621.88,58.70L621.95,57.70L622.01,56.70L622.07,55.70L622.11,54.70L622.16,53.70L622.20,52.70L622.24,51.70L622.28,50.70L622.32,49.70L622.36,48.70L622.40,47.70L622.43,46.70L622.47,45.70L622.50,44.70Z" fill="#bcd6e9"/>
<path d="M673.60,44.70L673.60,45.70L673.60,46.70L673.61,47.70L673.61,48.70L673.61,49.70L673.62,50.70L673.63,51.70L673.64,52.70L673.65,53.70L673.66,54.70L673.67,55.70L673.69,56.70L673.70,57.70L673.72,58.70L673.73,59.70L673.75,60.70L673.77,61.70L673.79,62.70L673.83,63.70L673.90,64.70L674.00,65.70L674.13,66.70L674.27,67.70L674.41,68.70L674.55,69.70L674.68,70.70L674.78,71.70L674.85,72.70L674.93,73.70L675.00,74.70L675.07,75.70L675.14,76.70L675.21,77.70L675.27,78.70L675.32,79.70L675.37,80.70L675.42,81.70L675.45,82.70L675.48,83.70L675.50,84.70L675.51,85.70L675.52,86.70L675.52,87.70L675.53,88.70L675.54,89.70L675.55,90.70L675.55,91.70L675.56,92.70L675.57,93.70L675.57,94.70L675.58,95.70L675.58,96.70L675.59,97.70L675.59,98.70L675.59,99.70L675.60,100.70L675.60,101.70L675.60,102.70L675.60,103.70L675.60,104.70L675.60,105.70L675.59,106.70L675.58,107.70L675.57,108.70L675.55,109.70L675.53,110.70L675.51,111.70L675.46,112.70L675.35,113.70L675.17,114.70L674.96,115.70L674.72,116.70L674.47,117.70L674.21,118.70L673.89,119.70L673.52,120.70L673.13,121.70L672.74,122.70L672.35,123.70L671.94,124.70L671.53,125.70L671.10,126.70L670.67,127.70L670.24,128.70L669.81,129.70L669.38,130.70L668.94,131.70L668.49,132.70L668.05,133.70L667.63,134.70L667.22,135.70L666.83,136.70L666.44,137.70L666.07,138.70L665.70,139.70L665.35,140.70L664.99,141.70L664.63,142.70L664.27,143.70L663.91,144.70L663.57,145.70L663.25,146.70L662.98,147.70L662.76,148.70L662.57,149.70L662.39,150.70L662.23,151.70L662.11,152.70L662.01,153.70L662.00,153.80L690.60,153.80L690.59,153.70L690.49,152.70L690.37,151.70L690.21,150.70L690.03,149.70L689.84,148.70L689.62,147.70L689.35,146.70L689.03,145.70L688.69,144.70L688.33,143.70L687.97,142.70L687.61,141.70L687.25,140.70L686.90,139.70L686.53,138.70L686.16,137.70L685.77,136.70L685.38,135.70L684.97,134.70L684.55,133.70L684.11,132.70L683.66,131.70L683.22,130.70L682.79,129.70L682.36,128.70L681.93,127.70L681.50,126.70L681.07,125.70L680.66,124.70L680.25,123.70L679.86,122.70L679.47,121.70L679.08,120.70L678.71,119.70L678.39,118.70L678.13,117.70L677.88,116.70L677.64,115.70L677.43,114.70L677.25,113.70L677.14,112.70L677.09,111.70L677.07,110.70L677.05,109.70L677.03,108.70L677.02,107.70L677.01,106.70L677.00,105.70L677.00,104.70L677.00,103.70L677.00,102.70L677.00,101.70L677.00,100.70L677.01,99.70L677.01,98.70L677.01,97.70L677.02,96.70L677.02,95.70L677.03,94.70L677.03,93.70L677.04,92.70L677.05,91.70L677.05,90.70L677.06,89.70L677.07,88.70L677.08,87.70L677.08,86.70L677.09,85.70L677.10,84.70L677.12,83.70L677.15,82.70L677.18,81.70L677.23,80.70L677.28,79.70L677.33,78.70L677.39,77.70L677.46,76.70L677.53,75.70L677.60,74.70L677.67,73.70L677.75,72.70L677.82,71.70L677.92,70.70L678.05,69.70L678.19,68.70L678.33,67.70L678.47,66.70L678.60,65.70L678.70,64.70L678.77,63.70L678.81,62.70L678.83,61.70L678.85,60.70L678.87,59.70L678.88,58.70L678.90,57.70L678.91,56.70L678.93,55.70L678.94,54.70L678.95,53.70L678.96,52.70L678.97,51.70L678.98,50.70L678.99,49.70L678.99,48.70L678.99,47.70L679.00,46.70L679.00,45.70L679.00,44.70Z" fill="#bcd6e9"/>
<path d="M731.40,44.70L731.43,45.70L731.46,46.70L731.50,47.70L731.53,48.70L731.56,49.70L731.59,50.70L731.62,51.70L731.65,52.70L731.68,53.70L731.71,54.70L731.73,55.70L731.75,56.70L731.77,57.70L731.78,58.70L731.80,59.70L731.81,60.70L731.82,61.70L731.82,62.70L731.83,63.70L731.84,64.70L731.85,65.70L731.86,66.70L731.87,67.70L731.87,68.70L731.88,69.70L731.89,70.70L731.90,71.70L731.90,72.70L731.91,73.70L731.92,74.70L731.92,75.70L731.93,76.70L731.93,77.70L731.94,78.70L731.95,79.70L731.95,80.70L731.96,81.70L731.96,82.70L731.96,83.70L731.97,84.70L731.97,85.70L731.98,86.70L731.98,87.70L731.98,88.70L731.99,89.70L731.99,90.70L731.99,91.70L731.99,92.70L731.99,93.70L732.00,94.70L732.00,95.70L732.00,96.70L732.00,97.70L732.00,98.70L732.00,99.70L732.00,100.70L732.00,101.70L732.00,102.70L731.99,103.70L731.99,104.70L731.98,105.70L731.98,106.70L731.97,107.70L731.96,108.70L731.95,109.70L731.94,110.70L731.92,111.70L731.91,112.70L731.89,113.70L731.87,114.70L731.85,115.70L731.83,116.70L731.81,117.70L731.76,118.70L731.66,119.70L731.51,120.70L731.35,121.70L731.20,122.70L731.07,123.70L730.92,124.70L730.73,125.70L730.53,126.70L730.29,127.70L730.04,128.70L729.76,129.70L729.46,130.70L729.13,131.70L728.76,132.70L728.32,133.70L727.85,134.70L727.33,135.70L726.79,136.70L726.24,137.70L725.67,138.70L725.03,139.70L724.34,140.70L723.65,141.70L722.99,142.70L722.38,143.70L721.78,144.70L721.21,145.70L720.66,146.70L720.15,147.70L719.66,148.70L719.18,149.70L718.79,150.70L718.51,151.70L718.27,152.70L718.11,153.70L718.10,153.80L746.50,153.80L746.49,153.70L746.33,152.70L746.09,151.70L745.81,150.70L745.42,149.70L744.94,148.70L744.45,147.70L743.94,146.70L743.39,145.70L742.82,144.70L742.22,143.70L741.61,142.70L740.95,141.70L740.26,140.70L739.57,139.70L738.93,138.70L738.36,137.70L737.81,136.70L737.27,135.70L736.75,134.70L736.28,133.70L735.84,132.70L735.47,131.70L735.14,130.70L734.84,129.70L734.56,128.70L734.31,127.70L734.07,126.70L733.87,125.70L733.68,124.70L733.53,123.70L733.40,122.70L733.25,121.70L733.09,120.70L732.94,119.70L732.84,118.70L732.79,117.70L732.77,116.70L732.75,115.70L732.73,114.70L732.71,113.70L732.69,112.70L732.68,111.70L732.66,110.70L732.65,109.70L732.64,108.70L732.63,107.70L732.62,106.70L732.62,105.70L732.61,104.70L732.61,103.70L732.60,102.70L732.60,101.70L732.60,100.70L732.60,99.70L732.60,98.70L732.60,97.70L732.60,96.70L732.60,95.70L732.60,94.70L732.61,93.70L732.61,92.70L732.61,91.70L732.61,90.70L732.61,89.70L732.62,88.70L732.62,87.70L732.62,86.70L732.63,85.70L732.63,84.70L732.64,83.70L732.64,82.70L732.64,81.70L732.65,80.70L732.65,79.70L732.66,78.70L732.67,77.70L732.67,76.70L732.68,75.70L732.68,74.70L732.69,73.70L732.70,72.70L732.70,71.70L732.71,70.70L732.72,69.70L732.73,68.70L732.73,67.70L732.74,66.70L732.75,65.70L732.76,64.70L732.77,63.70L732.78,62.70L732.78,61.70L732.79,60.70L732.80,59.70L732.82,58.70L732.83,57.70L732.85,56.70L732.87,55.70L732.89,54.70L732.92,53.70L732.95,52.70L732.98,51.70L733.01,50.70L733.04,49.70L733.07,48.70L733.10,47.70L733.14,46.70L733.17,45.70L733.20,44.70Z" fill="#bcd6e9"/>
<path d="M786.80,44.70L786.83,45.70L786.85,46.70L786.88,47.70L786.91,48.70L786.93,49.70L786.96,50.70L786.99,51.70L787.03,52.70L787.06,53.70L787.09,54.70L787.12,55.70L787.16,56.70L787.21,57.70L787.25,58.70L787.30,59.70L787.34,60.70L787.39,61.70L787.44,62.70L787.49,63.70L787.53,64.70L787.57,65.70L787.61,66.70L787.64,67.70L787.67,68.70L787.69,69.70L787.71,70.70L787.73,71.70L787.75,72.70L787.76,73.70L787.78,74.70L787.79,75.70L787.81,76.70L787.82,77.70L787.84,78.70L787.85,79.70L787.86,80.70L787.88,81.70L787.89,82.70L787.90,83.70L787.91,84.70L787.92,85.70L787.93,86.70L787.94,87.70L787.95,88.70L787.96,89.70L787.97,90.70L787.97,91.70L787.98,92.70L787.98,93.70L787.99,94.70L787.99,95.70L788.00,96.70L788.00,97.70L788.00,98.70L788.00,99.70L788.00,100.70L788.00,101.70L787.99,102.70L787.99,103.70L787.98,104.70L787.97,105.70L787.96,106.70L787.95,107.70L787.93,108.70L787.92,109.70L787.90,110.70L787.88,111.70L787.86,112.70L787.83,113.70L787.81,114.70L787.77,115.70L787.69,116.70L787.58,117.70L787.43,118.70L787.25,119.70L787.05,120.70L786.82,121.70L786.44,122.70L786.05,123.70L785.66,124.70L785.25,125.70L784.83,126.70L784.40,127.70L783.96,128.70L783.51,129.70L783.03,130.70L782.54,131.70L782.03,132.70L781.51,133.70L781.00,134.70L780.49,135.70L780.01,136.70L779.52,137.70L779.04,138.70L778.57,139.70L778.13,140.70L777.71,141.70L777.29,142.70L776.89,143.70L776.50,144.70L776.14,145.70L775.81,146.70L775.53,147.70L775.27,148.70L775.04,149.70L774.82,150.70L774.62,151.70L774.45,152.70L774.31,153.70L774.30,153.80L802.30,153.80L802.29,153.70L802.15,152.70L801.98,151.70L801.78,150.70L801.56,149.70L801.33,148.70L801.07,147.70L800.79,146.70L800.46,145.70L800.10,144.70L799.71,143.70L799.31,142.70L798.89,141.70L798.47,140.70L798.03,139.70L797.56,138.70L797.08,137.70L796.59,136.70L796.11,135.70L795.60,134.70L795.09,133.70L794.57,132.70L794.06,131.70L793.57,130.70L793.09,129.70L792.64,128.70L792.20,127.70L791.77,126.70L791.35,125.70L790.94,124.70L790.55,123.70L790.16,122.70L789.78,121.70L789.55,120.70L789.35,119.70L789.17,118.70L789.02,117.70L788.91,116.70L788.83,115.70L788.79,114.70L788.77,113.70L788.74,112.70L788.72,111.70L788.70,110.70L788.68,109.70L788.67,108.70L788.65,107.70L788.64,106.70L788.63,105.70L788.62,104.70L788.61,103.70L788.61,102.70L788.60,101.70L788.60,100.70L788.60,99.70L788.60,98.70L788.60,97.70L788.60,96.70L788.61,95.70L788.61,94.70L788.62,93.70L788.62,92.70L788.63,91.70L788.63,90.70L788.64,89.70L788.65,88.70L788.66,87.70L788.67,86.70L788.68,85.70L788.69,84.70L788.70,83.70L788.71,82.70L788.72,81.70L788.74,80.70L788.75,79.70L788.76,78.70L788.78,77.70L788.79,76.70L788.81,75.70L788.82,74.70L788.84,73.70L788.85,72.70L788.87,71.70L788.89,70.70L788.91,69.70L788.93,68.70L788.96,67.70L788.99,66.70L789.03,65.70L789.07,64.70L789.11,63.70L789.16,62.70L789.21,61.70L789.26,60.70L789.30,59.70L789.35,58.70L789.39,57.70L789.44,56.70L789.48,55.70L789.51,54.70L789.54,53.70L789.57,52.70L789.61,51.70L789.64,50.70L789.67,49.70L789.69,48.70L789.72,47.70L789.75,46.70L789.77,45.70L789.80,44.70Z" fill="#bcd6e9"/>
<path d="M620.30,149.80V144.70M618.90,144.70H621.70M618.90,153.90H621.70M617.50,153.90H623.10V149.80H617.50Z" fill="none" stroke="#000" stroke-width="1.42" stroke-linecap="square" stroke-linejoin="miter"/>
<circle cx="620.30" cy="44.30" r="4.05" fill="none" stroke="#000" stroke-width="1.58"/>
<circle cx="620.30" cy="44.70" r="4.05" fill="none" stroke="#000" stroke-width="1.58"/>
<circle cx="620.30" cy="45.10" r="4.05" fill="none" stroke="#000" stroke-width="1.58"/>
<circle cx="620.30" cy="101.40" r="4.05" fill="none" stroke="#000" stroke-width="1.58"/>
<circle cx="620.30" cy="104.70" r="4.05" fill="none" stroke="#000" stroke-width="1.58"/>
<circle cx="620.30" cy="106.50" r="4.05" fill="none" stroke="#000" stroke-width="1.58"/>
<circle cx="620.30" cy="107.10" r="4.05" fill="none" stroke="#000" stroke-width="1.58"/>
<circle cx="620.30" cy="116.60" r="4.05" fill="none" stroke="#000" stroke-width="1.58"/>
<circle cx="620.30" cy="137.40" r="4.05" fill="none" stroke="#000" stroke-width="1.58"/>
<circle cx="620.30" cy="144.20" r="4.05" fill="none" stroke="#000" stroke-width="1.58"/>
<path d="M617.50,154.00H623.10" stroke="#ff7f0e" stroke-width="1.42" stroke-linecap="square" fill="none"/>
<circle cx="676.30" cy="44.30" r="4.05" fill="none" stroke="#000" stroke-width="1.58"/>
<circle cx="676.30" cy="44.70" r="4.05" fill="none" stroke="#000" stroke-width="1.58"/>
<circle cx="676.30" cy="45.10" r="4.05" fill="none" stroke="#000" stroke-width="1.58"/>
<circle cx="676.30" cy="68.30" r="4.05" fill="none" stroke="#000" stroke-width="1.58"/>
<circle cx="676.30" cy="78.00" r="4.05" fill="none" stroke="#000" stroke-width="1.58"/>
<circle cx="676.30" cy="79.70" r="4.05" fill="none" stroke="#000" stroke-width="1.58"/>
<circle cx="676.30" cy="112.00" r="4.05" fill="none" stroke="#000" stroke-width="1.58"/>
<circle cx="676.30" cy="138.50" r="4.05" fill="none" stroke="#000" stroke-width="1.58"/>
<path d="M673.50,154.00H679.10" stroke="#ff7f0e" stroke-width="1.42" stroke-linecap="square" fill="none"/>
<circle cx="732.30" cy="44.50" r="4.05" fill="none" stroke="#000" stroke-width="1.58"/>
<circle cx="732.30" cy="44.90" r="4.05" fill="none" stroke="#000" stroke-width="1.58"/>
<circle cx="732.30" cy="53.60" r="4.05" fill="none" stroke="#000" stroke-width="1.58"/>
<circle cx="732.30" cy="116.60" r="4.05" fill="none" stroke="#000" stroke-width="1.58"/>
<circle cx="732.30" cy="117.20" r="4.05" fill="none" stroke="#000" stroke-width="1.58"/>
<circle cx="732.30" cy="138.70" r="4.05" fill="none" stroke="#000" stroke-width="1.58"/>
<circle cx="732.30" cy="152.40" r="4.05" fill="none" stroke="#000" stroke-width="1.58"/>
<circle cx="732.30" cy="152.90" r="4.05" fill="none" stroke="#000" stroke-width="1.58"/>
<circle cx="732.30" cy="153.40" r="4.05" fill="none" stroke="#000" stroke-width="1.58"/>
<path d="M729.50,154.00H735.10" stroke="#ff7f0e" stroke-width="1.42" stroke-linecap="square" fill="none"/>
<circle cx="788.30" cy="44.30" r="4.05" fill="none" stroke="#000" stroke-width="1.58"/>
<circle cx="788.30" cy="44.70" r="4.05" fill="none" stroke="#000" stroke-width="1.58"/>
<circle cx="788.30" cy="45.10" r="4.05" fill="none" stroke="#000" stroke-width="1.58"/>
<circle cx="788.30" cy="115.90" r="4.05" fill="none" stroke="#000" stroke-width="1.58"/>
<circle cx="788.30" cy="143.80" r="4.05" fill="none" stroke="#000" stroke-width="1.58"/>
<circle cx="788.30" cy="144.50" r="4.05" fill="none" stroke="#000" stroke-width="1.58"/>
<circle cx="788.30" cy="145.30" r="4.05" fill="none" stroke="#000" stroke-width="1.58"/>
<circle cx="788.30" cy="146.30" r="4.05" fill="none" stroke="#000" stroke-width="1.58"/>
<circle cx="788.30" cy="147.50" r="4.05" fill="none" stroke="#000" stroke-width="1.58"/>
<path d="M785.50,154.00H791.10" stroke="#ff7f0e" stroke-width="1.42" stroke-linecap="square" fill="none"/>
<path d="M592.50,44.50h-4.5M592.50,66.43h-4.5M592.50,88.36h-4.5M592.50,110.29h-4.5M592.50,132.22h-4.5M620.35,159.50v4.4M676.35,159.50v4.4M732.35,159.50v4.4M788.35,159.50v4.4" stroke="#000" stroke-width="1.14" fill="none"/>
<text x="583.7" y="48.65" text-anchor="end" font-size="13.05">3600</text>
<text x="583.7" y="70.58" text-anchor="end" font-size="13.05">2880</text>
<text x="583.7" y="92.51" text-anchor="end" font-size="13.05">2160</text>
<text x="583.7" y="114.44" text-anchor="end" font-size="13.05">1440</text>
<text x="583.7" y="136.37" text-anchor="end" font-size="13.05">720</text>
<text x="620.5" y="177.2" text-anchor="middle" font-size="13.05">PASDA</text>
<text x="676.5" y="177.2" text-anchor="middle" font-size="13.05">ARDiff</text>
<text x="732.5" y="177.2" text-anchor="middle" font-size="13.05">DSE</text>
<text x="788.5" y="177.2" text-anchor="middle" font-size="13.05">PRV</text>
<rect x="592.50" y="39.00" width="224.00" height="120.50" fill="none" stroke="#000" stroke-width="1.14"/>
</g>
<g>
<text x="159.1" y="205.5" text-anchor="middle" font-size="15.3">NEQ cases, 10 s timeout</text>
<path d="M70.70,220.30L70.70,221.30L70.72,222.30L70.74,223.30L70.76,224.30L70.80,225.30L70.83,226.30L70.87,227.30L70.92,228.30L70.97,229.30L71.02,230.30L71.09,231.30L71.18,232.30L71.30,233.30L71.42,234.30L71.55,235.30L71.67,236.30L71.79,237.30L71.90,238.30L72.02,239.30L72.14,240.30L72.27,241.30L72.40,242.30L72.53,243.30L72.66,244.30L72.78,245.30L72.91,246.30L73.03,247.30L73.14,248.30L73.25,249.30L73.35,250.30L73.44,251.30L73.51,252.30L73.58,253.30L73.63,254.30L73.68,255.30L73.73,256.30L73.78,257.30L73.83,258.30L73.87,259.30L73.91,260.30L73.94,261.30L73.97,262.30L73.99,263.30L74.00,264.30L74.00,265.30L73.97,266.30L73.90,267.30L73.81,268.30L73.69,269.30L73.56,270.30L73.43,271.30L73.29,272.30L73.16,273.30L73.02,274.30L72.87,275.30L72.71,276.30L72.54,277.30L72.35,278.30L72.16,279.30L71.95,280.30L71.73,281.30L71.49,282.30L71.21,283.30L70.92,284.30L70.62,285.30L70.31,286.30L69.98,287.30L69.63,288.30L69.27,289.30L68.91,290.30L68.54,291.30L68.18,292.30L67.82,293.30L67.46,294.30L67.09,295.30L66.72,296.30L66.35,297.30L66.00,298.30L65.67,299.30L65.34,300.30L65.03,301.30L64.71,302.30L64.41,303.30L64.13,304.30L63.85,305.30L63.60,306.30L63.36,307.30L63.13,308.30L62.91,309.30L62.72,310.30L62.55,311.30L62.38,312.30L62.21,313.30L62.04,314.30L61.89,315.30L61.77,316.30L61.69,317.30L61.65,318.30L61.66,319.30L61.68,320.30L61.73,321.30L61.79,322.30L61.85,323.30L61.92,324.30L62.03,325.30L62.17,326.30L62.34,327.30L62.50,328.20L89.10,328.20L89.26,327.30L89.43,326.30L89.57,325.30L89.68,324.30L89.75,323.30L89.81,322.30L89.87,321.30L89.92,320.30L89.94,319.30L89.95,318.30L89.91,317.30L89.83,316.30L89.71,315.30L89.56,314.30L89.39,313.30L89.22,312.30L89.05,311.30L88.88,310.30L88.69,309.30L88.47,308.30L88.24,307.30L88.00,306.30L87.75,305.30L87.47,304.30L87.19,303.30L86.89,302.30L86.57,301.30L86.26,300.30L85.93,299.30L85.60,298.30L85.25,297.30L84.88,296.30L84.51,295.30L84.14,294.30L83.78,293.30L83.42,292.30L83.06,291.30L82.69,290.30L82.33,289.30L81.97,288.30L81.62,287.30L81.29,286.30L80.98,285.30L80.68,284.30L80.39,283.30L80.11,282.30L79.87,281.30L79.65,280.30L79.44,279.30L79.25,278.30L79.06,277.30L78.89,276.30L78.73,275.30L78.58,274.30L78.44,273.30L78.31,272.30L78.17,271.30L78.04,270.30L77.91,269.30L77.79,268.30L77.70,267.30L77.63,266.30L77.60,265.30L77.60,264.30L77.61,263.30L77.63,262.30L77.66,261.30L77.69,260.30L77.73,259.30L77.77,258.30L77.82,257.30L77.87,256.30L77.92,255.30L77.97,254.30L78.02,253.30L78.09,252.30L78.16,251.30L78.25,250.30L78.35,249.30L78.46,248.30L78.57,247.30L78.69,246.30L78.82,245.30L78.94,244.30L79.07,243.30L79.20,242.30L79.33,241.30L79.46,240.30L79.58,239.30L79.70,238.30L79.81,237.30L79.93,236.30L80.05,235.30L80.18,234.30L80.30,233.30L80.42,232.30L80.51,231.30L80.58,230.30L80.63,229.30L80.68,228.30L80.73,227.30L80.77,226.30L80.80,225.30L80.84,224.30L80.86,223.30L80.88,222.30L80.90,221.30L80.90,220.30Z" fill="#bcd6e9"/>
<path d="M118.50,220.30L118.59,221.30L118.70,222.30L118.81,223.30L118.92,224.30L119.05,225.30L119.18,226.30L119.31,227.30L119.46,228.30L119.60,229.30L119.75,230.30L119.90,231.30L120.06,232.30L120.24,233.30L120.43,234.30L120.64,235.30L120.87,236.30L121.17,237.30L121.51,238.30L121.89,239.30L122.28,240.30L122.67,241.30L123.03,242.30L123.36,243.30L123.68,244.30L123.99,245.30L124.30,246.30L124.59,247.30L124.87,248.30L125.15,249.30L125.41,250.30L125.66,251.30L125.91,252.30L126.15,253.30L126.38,254.30L126.60,255.30L126.80,256.30L127.01,257.30L127.22,258.30L127.40,259.30L127.54,260.30L127.62,261.30L127.66,262.30L127.70,263.30L127.74,264.30L127.77,265.30L127.79,266.30L127.80,267.30L127.80,268.30L127.77,269.30L127.71,270.30L127.62,271.30L127.51,272.30L127.39,273.30L127.27,274.30L127.13,275.30L126.94,276.30L126.70,277.30L126.43,278.30L126.14,279.30L125.84,280.30L125.55,281.30L125.28,282.30L125.00,283.30L124.72,284.30L124.43,285.30L124.13,286.30L123.82,287.30L123.50,288.30L123.17,289.30L122.82,290.30L122.45,291.30L122.08,292.30L121.67,293.30L121.20,294.30L120.71,295.30L120.24,296.30L119.80,297.30L119.44,298.30L119.18,299.30L118.94,300.30L118.73,301.30L118.53,302.30L118.37,303.30L118.23,304.30L118.12,305.30L118.03,306.30L117.94,307.30L117.87,308.30L117.80,309.30L117.75,310.30L117.71,311.30L117.70,312.30L117.71,313.30L117.72,314.30L117.74,315.30L117.77,316.30L117.82,317.30L117.94,318.30L118.15,319.30L118.43,320.30L118.74,321.30L118.80,321.50L144.80,321.50L144.86,321.30L145.17,320.30L145.45,319.30L145.66,318.30L145.78,317.30L145.83,316.30L145.86,315.30L145.88,314.30L145.89,313.30L145.90,312.30L145.89,311.30L145.85,310.30L145.80,309.30L145.73,308.30L145.66,307.30L145.57,306.30L145.48,305.30L145.37,304.30L145.23,303.30L145.07,302.30L144.87,301.30L144.66,300.30L144.42,299.30L144.16,298.30L143.80,297.30L143.36,296.30L142.89,295.30L142.40,294.30L141.93,293.30L141.52,292.30L141.15,291.30L140.78,290.30L140.43,289.30L140.10,288.30L139.78,287.30L139.47,286.30L139.17,285.30L138.88,284.30L138.60,283.30L138.32,282.30L138.05,281.30L137.76,280.30L137.46,279.30L137.17,278.30L136.90,277.30L136.66,276.30L136.47,275.30L136.33,274.30L136.21,273.30L136.09,272.30L135.98,271.30L135.89,270.30L135.83,269.30L135.80,268.30L135.80,267.30L135.81,266.30L135.83,265.30L135.86,264.30L135.90,263.30L135.94,262.30L135.98,261.30L136.06,260.30L136.20,259.30L136.38,258.30L136.59,257.30L136.80,256.30L137.00,255.30L137.22,254.30L137.45,253.30L137.69,252.30L137.94,251.30L138.19,250.30L138.45,249.30L138.73,248.30L139.01,247.30L139.30,246.30L139.61,245.30L139.92,244.30L140.24,243.30L140.57,242.30L140.93,241.30L141.32,240.30L141.71,239.30L142.09,238.30L142.43,237.30L142.73,236.30L142.96,235.30L143.17,234.30L143.36,233.30L143.54,232.30L143.70,231.30L143.85,230.30L144.00,229.30L144.14,228.30L144.29,227.30L144.42,226.30L144.55,225.30L144.68,224.30L144.79,223.30L144.90,222.30L145.01,221.30L145.10,220.30Z" fill="#bcd6e9"/>
<path d="M185.50,219.50L185.54,220.50L185.58,221.50L185.62,222.50L185.66,223.50L185.71,224.50L185.75,225.50L185.79,226.50L185.84,227.50L185.88,228.50L185.93,229.50L185.98,230.50L186.03,231.50L186.07,232.50L186.12,233.50L186.17,234.50L186.23,235.50L186.28,236.50L186.35,237.50L186.42,238.50L186.49,239.50L186.57,240.50L186.65,241.50L186.73,242.50L186.80,243.50L186.88,244.50L186.95,245.50L187.02,246.50L187.09,247.50L187.15,248.50L187.20,249.50L187.24,250.50L187.27,251.50L187.29,252.50L187.30,253.50L187.30,254.50L187.29,255.50L187.28,256.50L187.26,257.50L187.23,258.50L187.21,259.50L187.18,260.50L187.14,261.50L187.10,262.50L187.06,263.50L187.02,264.50L186.98,265.50L186.91,266.50L186.82,267.50L186.72,268.50L186.61,269.50L186.50,270.50L186.38,271.50L186.26,272.50L186.14,273.50L186.04,274.50L185.93,275.50L185.82,276.50L185.70,277.50L185.56,278.50L185.39,279.50L185.19,280.50L184.90,281.50L184.53,282.50L184.10,283.50L183.65,284.50L183.18,285.50L182.73,286.50L182.29,287.50L181.84,288.50L181.36,289.50L180.88,290.50L180.41,291.50L179.94,292.50L179.50,293.50L179.08,294.50L178.67,295.50L178.27,296.50L177.87,297.50L177.49,298.50L177.10,299.50L176.72,300.50L176.34,301.50L175.97,302.50L175.60,303.50L175.26,304.50L174.94,305.50L174.64,306.50L174.36,307.50L174.11,308.50L173.89,309.50L173.67,310.50L173.52,311.50L173.51,312.50L173.55,313.50L173.62,314.50L173.71,315.50L173.87,316.50L174.13,317.50L174.43,318.50L174.78,319.50L175.24,320.50L175.78,321.50L175.90,321.70L199.70,321.70L199.82,321.50L200.36,320.50L200.82,319.50L201.17,318.50L201.47,317.50L201.73,316.50L201.89,315.50L201.98,314.50L202.05,313.50L202.09,312.50L202.08,311.50L201.93,310.50L201.71,309.50L201.49,308.50L201.24,307.50L200.96,306.50L200.66,305.50L200.34,304.50L200.00,303.50L199.63,302.50L199.26,301.50L198.88,300.50L198.50,299.50L198.11,298.50L197.73,297.50L197.33,296.50L196.93,295.50L196.52,294.50L196.10,293.50L195.66,292.50L195.19,291.50L194.72,290.50L194.24,289.50L193.76,288.50L193.31,287.50L192.87,286.50L192.42,285.50L191.95,284.50L191.50,283.50L191.07,282.50L190.70,281.50L190.41,280.50L190.21,279.50L190.04,278.50L189.90,277.50L189.78,276.50L189.67,275.50L189.56,274.50L189.46,273.50L189.34,272.50L189.22,271.50L189.10,270.50L188.99,269.50L188.88,268.50L188.78,267.50L188.69,266.50L188.62,265.50L188.58,264.50L188.54,263.50L188.50,262.50L188.46,261.50L188.42,260.50L188.39,259.50L188.37,258.50L188.34,257.50L188.32,256.50L188.31,255.50L188.30,254.50L188.30,253.50L188.31,252.50L188.33,251.50L188.36,250.50L188.40,249.50L188.45,248.50L188.51,247.50L188.58,246.50L188.65,245.50L188.72,244.50L188.80,243.50L188.87,242.50L188.95,241.50L189.03,240.50L189.11,239.50L189.18,238.50L189.25,237.50L189.32,236.50L189.37,235.50L189.43,234.50L189.48,233.50L189.53,232.50L189.57,231.50L189.62,230.50L189.67,229.50L189.72,228.50L189.76,227.50L189.81,226.50L189.85,225.50L189.89,224.50L189.94,223.50L189.98,222.50L190.02,221.50L190.06,220.50L190.10,219.50Z" fill="#bcd6e9"/>
<path d="M240.30,221.00L240.30,222.00L240.30,223.00L240.30,224.00L240.30,225.00L240.30,226.00L240.30,227.00L240.30,228.00L240.30,229.00L240.30,230.00L240.32,231.00L240.37,232.00L240.45,233.00L240.55,234.00L240.67,235.00L240.80,236.00L240.93,237.00L241.06,238.00L241.19,239.00L241.30,240.00L241.41,241.00L241.54,242.00L241.68,243.00L241.82,244.00L241.96,245.00L242.11,246.00L242.25,247.00L242.38,248.00L242.50,249.00L242.61,250.00L242.69,251.00L242.76,252.00L242.79,253.00L242.80,254.00L242.79,255.00L242.78,256.00L242.76,257.00L242.74,258.00L242.71,259.00L242.68,260.00L242.64,261.00L242.60,262.00L242.54,263.00L242.45,264.00L242.34,265.00L242.23,266.00L242.11,267.00L242.00,268.00L241.91,269.00L241.82,270.00L241.73,271.00L241.63,272.00L241.53,273.00L241.40,274.00L241.24,275.00L241.04,276.00L240.82,277.00L240.59,278.00L240.35,279.00L240.12,280.00L239.87,281.00L239.61,282.00L239.35,283.00L239.09,284.00L238.83,285.00L238.57,286.00L238.32,287.00L238.08,288.00L237.83,289.00L237.58,290.00L237.33,291.00L237.08,292.00L236.82,293.00L236.58,294.00L236.32,295.00L236.05,296.00L235.74,297.00L235.38,298.00L234.99,299.00L234.59,300.00L234.18,301.00L233.79,302.00L233.43,303.00L233.09,304.00L232.74,305.00L232.41,306.00L232.09,307.00L231.79,308.00L231.52,309.00L231.28,310.00L231.05,311.00L230.83,312.00L230.62,313.00L230.43,314.00L230.27,315.00L230.13,316.00L230.03,317.00L229.92,318.00L229.84,319.00L229.77,320.00L229.75,321.00L229.77,322.00L229.83,323.00L229.91,324.00L230.00,325.00L230.15,326.00L230.37,327.00L230.64,328.00L230.70,328.20L256.90,328.20L256.96,328.00L257.23,327.00L257.45,326.00L257.60,325.00L257.69,324.00L257.77,323.00L257.83,322.00L257.85,321.00L257.83,320.00L257.76,319.00L257.68,318.00L257.57,317.00L257.47,316.00L257.33,315.00L257.17,314.00L256.98,313.00L256.77,312.00L256.55,311.00L256.32,310.00L256.08,309.00L255.81,308.00L255.51,307.00L255.19,306.00L254.86,305.00L254.51,304.00L254.17,303.00L253.81,302.00L253.42,301.00L253.01,300.00L252.61,299.00L252.22,298.00L251.86,297.00L251.55,296.00L251.28,295.00L251.02,294.00L250.78,293.00L250.52,292.00L250.27,291.00L250.02,290.00L249.77,289.00L249.52,288.00L249.28,287.00L249.03,286.00L248.77,285.00L248.51,284.00L248.25,283.00L247.99,282.00L247.73,281.00L247.48,280.00L247.25,279.00L247.01,278.00L246.78,277.00L246.56,276.00L246.36,275.00L246.20,274.00L246.07,273.00L245.97,272.00L245.87,271.00L245.78,270.00L245.69,269.00L245.60,268.00L245.49,267.00L245.37,266.00L245.26,265.00L245.15,264.00L245.06,263.00L245.00,262.00L244.96,261.00L244.92,260.00L244.89,259.00L244.86,258.00L244.84,257.00L244.82,256.00L244.81,255.00L244.80,254.00L244.81,253.00L244.84,252.00L244.91,251.00L244.99,250.00L245.10,249.00L245.22,248.00L245.35,247.00L245.49,246.00L245.64,245.00L245.78,244.00L245.92,243.00L246.06,242.00L246.19,241.00L246.30,240.00L246.41,239.00L246.54,238.00L246.67,237.00L246.80,236.00L246.93,235.00L247.05,234.00L247.15,233.00L247.23,232.00L247.28,231.00L247.30,230.00L247.30,229.00L247.30,228.00L247.30,227.00L247.30,226.00L247.30,225.00L247.30,224.00L247.30,223.00L247.30,222.00L247.30,221.00Z" fill="#bcd6e9"/>
<path d="M75.80,286.30V283.60M75.80,324.70V328.10M74.40,283.60H77.20M74.40,328.10H77.20M73.00,324.70H78.60V286.30H73.00Z" fill="none" stroke="#000" stroke-width="1.42" stroke-linecap="square" stroke-linejoin="miter"/>
<circle cx="75.80" cy="221.60" r="4.05" fill="none" stroke="#000" stroke-width="1.58"/>
<circle cx="75.80" cy="222.20" r="4.05" fill="none" stroke="#000" stroke-width="1.58"/>
<circle cx="75.80" cy="224.10" r="4.05" fill="none" stroke="#000" stroke-width="1.58"/>
<circle cx="75.80" cy="224.70" r="4.05" fill="none" stroke="#000" stroke-width="1.58"/>
<path d="M73.00,318.50H78.60" stroke="#ff7f0e" stroke-width="1.42" stroke-linecap="square" fill="none"/>
<path d="M131.80,313.70V321.50M130.40,220.70H133.20M130.40,321.50H133.20M129.00,313.70H134.60V220.70H129.00Z" fill="none" stroke="#000" stroke-width="1.42" stroke-linecap="square" stroke-linejoin="miter"/>
<path d="M129.00,279.80H134.60" stroke="#ff7f0e" stroke-width="1.42" stroke-linecap="square" fill="none"/>
<path d="M187.80,302.60V282.90M187.80,316.50V322.10M186.40,282.90H189.20M186.40,322.10H189.20M185.00,316.50H190.60V302.60H185.00Z" fill="none" stroke="#000" stroke-width="1.42" stroke-linecap="square" stroke-linejoin="miter"/>
<circle cx="187.80" cy="219.30" r="4.05" fill="none" stroke="#000" stroke-width="1.58"/>
<circle cx="187.80" cy="219.90" r="4.05" fill="none" stroke="#000" stroke-width="1.58"/>
<circle cx="187.80" cy="220.80" r="4.05" fill="none" stroke="#000" stroke-width="1.58"/>
<path d="M185.00,312.00H190.60" stroke="#ff7f0e" stroke-width="1.42" stroke-linecap="square" fill="none"/>
<path d="M243.80,292.60V272.70M243.80,324.50V328.10M242.40,272.70H245.20M242.40,328.10H245.20M241.00,324.50H246.60V292.60H241.00Z" fill="none" stroke="#000" stroke-width="1.42" stroke-linecap="square" stroke-linejoin="miter"/>
<circle cx="243.80" cy="221.50" r="4.05" fill="none" stroke="#000" stroke-width="1.58"/>
<circle cx="243.80" cy="221.90" r="4.05" fill="none" stroke="#000" stroke-width="1.58"/>
<circle cx="243.80" cy="222.30" r="4.05" fill="none" stroke="#000" stroke-width="1.58"/>
<path d="M241.00,318.50H246.60" stroke="#ff7f0e" stroke-width="1.42" stroke-linecap="square" fill="none"/>
<path d="M48.00,220.10h-4.5M48.00,243.70h-4.5M48.00,267.30h-4.5M48.00,290.90h-4.5M48.00,314.50h-4.5M75.85,333.50v4.4M131.85,333.50v4.4M187.85,333.50v4.4M243.85,333.50v4.4" stroke="#000" stroke-width="1.14" fill="none"/>
<text x="39.2" y="224.25" text-anchor="end" font-size="13.05">10</text>
<text x="39.2" y="247.85" text-anchor="end" font-size="13.05">8</text>
<text x="39.2" y="271.45" text-anchor="end" font-size="13.05">6</text>
<text x="39.2" y="295.05" text-anchor="end" font-size="13.05">4</text>
<text x="39.2" y="318.65" text-anchor="end" font-size="13.05">2</text>
<text x="76.0" y="351.1" text-anchor="middle" font-size="13.05">PASDA</text>
<text x="132.0" y="351.1" text-anchor="middle" font-size="13.05">ARDiff</text>
<text x="188.0" y="351.1" text-anchor="middle" font-size="13.05">DSE</text>
<text x="244.0" y="351.1" text-anchor="middle" font-size="13.05">PRV</text>
<rect x="48.00" y="213.50" width="223.80" height="120.00" fill="none" stroke="#000" stroke-width="1.14"/>
</g>
<g>
<text x="431.7" y="205.5" text-anchor="middle" font-size="15.3">NEQ cases, 300 s timeout</text>
<path d="M346.00,219.80L346.05,220.80L346.10,221.80L346.16,222.80L346.21,223.80L346.26,224.80L346.31,225.80L346.37,226.80L346.42,227.80L346.47,228.80L346.52,229.80L346.58,230.80L346.63,231.80L346.68,232.80L346.74,233.80L346.79,234.80L346.84,235.80L346.90,236.80L346.97,237.80L347.04,238.80L347.10,239.80L347.18,240.80L347.25,241.80L347.32,242.80L347.39,243.80L347.45,244.80L347.52,245.80L347.58,246.80L347.63,247.80L347.68,248.80L347.72,249.80L347.76,250.80L347.78,251.80L347.80,252.80L347.80,253.80L347.80,254.80L347.80,255.80L347.80,256.80L347.80,257.80L347.80,258.80L347.80,259.80L347.80,260.80L347.80,261.80L347.80,262.80L347.80,263.80L347.80,264.80L347.80,265.80L347.80,266.80L347.80,267.80L347.80,268.80L347.80,269.80L347.80,270.80L347.80,271.80L347.80,272.80L347.80,273.80L347.80,274.80L347.80,275.80L347.80,276.80L347.80,277.80L347.80,278.80L347.80,279.80L347.80,280.80L347.78,281.80L347.72,282.80L347.63,283.80L347.50,284.80L347.35,285.80L347.20,286.80L347.03,287.80L346.87,288.80L346.73,289.80L346.58,290.80L346.42,291.80L346.26,292.80L346.08,293.80L345.89,294.80L345.68,295.80L345.45,296.80L345.19,297.80L344.86,298.80L344.48,299.80L344.07,300.80L343.63,301.80L343.14,302.80L342.66,303.80L342.19,304.80L341.73,305.80L341.27,306.80L340.81,307.80L340.36,308.80L339.92,309.80L339.48,310.80L339.04,311.80L338.61,312.80L338.18,313.80L337.77,314.80L337.37,315.80L337.00,316.80L336.64,317.80L336.29,318.80L335.95,319.80L335.62,320.80L335.33,321.80L335.06,322.80L334.84,323.80L334.63,324.80L334.45,325.80L334.28,326.80L334.15,327.80L334.10,328.20L362.50,328.20L362.45,327.80L362.32,326.80L362.15,325.80L361.97,324.80L361.76,323.80L361.54,322.80L361.27,321.80L360.98,320.80L360.65,319.80L360.31,318.80L359.96,317.80L359.60,316.80L359.23,315.80L358.83,314.80L358.42,313.80L357.99,312.80L357.56,311.80L357.12,310.80L356.68,309.80L356.24,308.80L355.79,307.80L355.33,306.80L354.87,305.80L354.41,304.80L353.94,303.80L353.46,302.80L352.97,301.80L352.53,300.80L352.12,299.80L351.74,298.80L351.41,297.80L351.15,296.80L350.92,295.80L350.71,294.80L350.52,293.80L350.34,292.80L350.18,291.80L350.02,290.80L349.87,289.80L349.73,288.80L349.57,287.80L349.40,286.80L349.25,285.80L349.10,284.80L348.97,283.80L348.88,282.80L348.82,281.80L348.80,280.80L348.80,279.80L348.80,278.80L348.80,277.80L348.80,276.80L348.80,275.80L348.80,274.80L348.80,273.80L348.80,272.80L348.80,271.80L348.80,270.80L348.80,269.80L348.80,268.80L348.80,267.80L348.80,266.80L348.80,265.80L348.80,264.80L348.80,263.80L348.80,262.80L348.80,261.80L348.80,260.80L348.80,259.80L348.80,258.80L348.80,257.80L348.80,256.80L348.80,255.80L348.80,254.80L348.80,253.80L348.80,252.80L348.82,251.80L348.84,250.80L348.88,249.80L348.92,248.80L348.97,247.80L349.02,246.80L349.08,245.80L349.15,244.80L349.21,243.80L349.28,242.80L349.35,241.80L349.42,240.80L349.50,239.80L349.56,238.80L349.63,237.80L349.70,236.80L349.76,235.80L349.81,234.80L349.86,233.80L349.92,232.80L349.97,231.80L350.02,230.80L350.08,229.80L350.13,228.80L350.18,227.80L350.23,226.80L350.29,225.80L350.34,224.80L350.39,223.80L350.44,222.80L350.50,221.80L350.55,220.80L350.60,219.80Z" fill="#bcd6e9"/>
<path d="M399.30,219.00L399.39,220.00L399.48,221.00L399.56,222.00L399.65,223.00L399.74,224.00L399.83,225.00L399.93,226.00L400.02,227.00L400.11,228.00L400.21,229.00L400.30,230.00L400.40,231.00L400.50,232.00L400.60,233.00L400.70,234.00L400.80,235.00L400.91,236.00L401.01,237.00L401.11,238.00L401.22,239.00L401.32,240.00L401.42,241.00L401.52,242.00L401.62,243.00L401.71,244.00L401.80,245.00L401.89,246.00L402.00,247.00L402.11,248.00L402.21,249.00L402.31,250.00L402.39,251.00L402.45,252.00L402.49,253.00L402.50,254.00L402.49,255.00L402.48,256.00L402.46,257.00L402.43,258.00L402.39,259.00L402.35,260.00L402.31,261.00L402.26,262.00L402.21,263.00L402.16,264.00L402.10,265.00L402.02,266.00L401.90,267.00L401.75,268.00L401.59,269.00L401.43,270.00L401.28,271.00L401.17,272.00L401.10,273.00L401.06,274.00L401.03,275.00L401.00,276.00L400.98,277.00L400.96,278.00L400.94,279.00L400.93,280.00L400.92,281.00L400.90,282.00L400.89,283.00L400.88,284.00L400.86,285.00L400.84,286.00L400.81,287.00L400.78,288.00L400.74,289.00L400.70,290.00L400.61,291.00L400.46,292.00L400.25,293.00L400.00,294.00L399.72,295.00L399.43,296.00L399.14,297.00L398.81,298.00L398.43,299.00L398.00,300.00L397.57,301.00L397.13,302.00L396.70,303.00L396.30,304.00L395.91,305.00L395.53,306.00L395.14,307.00L394.76,308.00L394.39,309.00L394.01,310.00L393.63,311.00L393.25,312.00L392.86,313.00L392.51,314.00L392.20,315.00L391.92,316.00L391.65,317.00L391.39,318.00L391.16,319.00L390.96,320.00L390.79,321.00L390.68,322.00L390.59,323.00L390.50,324.00L390.42,325.00L390.36,326.00L390.32,327.00L390.30,328.00L390.30,328.20L418.30,328.20L418.30,328.00L418.28,327.00L418.24,326.00L418.18,325.00L418.10,324.00L418.01,323.00L417.92,322.00L417.81,321.00L417.64,320.00L417.44,319.00L417.21,318.00L416.95,317.00L416.68,316.00L416.40,315.00L416.09,314.00L415.74,313.00L415.35,312.00L414.97,311.00L414.59,310.00L414.21,309.00L413.84,308.00L413.46,307.00L413.07,306.00L412.69,305.00L412.30,304.00L411.90,303.00L411.47,302.00L411.03,301.00L410.60,300.00L410.17,299.00L409.79,298.00L409.46,297.00L409.17,296.00L408.88,295.00L408.60,294.00L408.35,293.00L408.14,292.00L407.99,291.00L407.90,290.00L407.86,289.00L407.82,288.00L407.79,287.00L407.76,286.00L407.74,285.00L407.72,284.00L407.71,283.00L407.70,282.00L407.68,281.00L407.67,280.00L407.66,279.00L407.64,278.00L407.62,277.00L407.60,276.00L407.57,275.00L407.54,274.00L407.50,273.00L407.43,272.00L407.32,271.00L407.17,270.00L407.01,269.00L406.85,268.00L406.70,267.00L406.58,266.00L406.50,265.00L406.44,264.00L406.39,263.00L406.34,262.00L406.29,261.00L406.25,260.00L406.21,259.00L406.17,258.00L406.14,257.00L406.12,256.00L406.11,255.00L406.10,254.00L406.11,253.00L406.15,252.00L406.21,251.00L406.29,250.00L406.39,249.00L406.49,248.00L406.60,247.00L406.71,246.00L406.80,245.00L406.89,244.00L406.98,243.00L407.08,242.00L407.18,241.00L407.28,240.00L407.38,239.00L407.49,238.00L407.59,237.00L407.69,236.00L407.80,235.00L407.90,234.00L408.00,233.00L408.10,232.00L408.20,231.00L408.30,230.00L408.39,229.00L408.49,228.00L408.58,227.00L408.67,226.00L408.77,225.00L408.86,224.00L408.95,223.00L409.04,222.00L409.12,221.00L409.21,220.00L409.30,219.00Z" fill="#bcd6e9"/>
<path d="M458.80,219.80L458.84,220.80L458.88,221.80L458.92,222.80L458.95,223.80L458.99,224.80L459.03,225.80L459.07,226.80L459.10,227.80L459.14,228.80L459.17,229.80L459.21,230.80L459.24,231.80L459.28,232.80L459.31,233.80L459.34,234.80L459.37,235.80L459.40,236.80L459.43,237.80L459.46,238.80L459.49,239.80L459.52,240.80L459.55,241.80L459.59,242.80L459.62,243.80L459.65,244.80L459.69,245.80L459.72,246.80L459.75,247.80L459.79,248.80L459.82,249.80L459.85,250.80L459.87,251.80L459.90,252.80L459.92,253.80L459.95,254.80L459.96,255.80L459.98,256.80L459.99,257.80L460.00,258.80L460.00,259.80L460.00,260.80L460.00,261.80L460.00,262.80L460.00,263.80L460.00,264.80L459.99,265.80L459.99,266.80L459.99,267.80L459.99,268.80L459.98,269.80L459.98,270.80L459.97,271.80L459.97,272.80L459.96,273.80L459.96,274.80L459.95,275.80L459.94,276.80L459.93,277.80L459.93,278.80L459.92,279.80L459.91,280.80L459.90,281.80L459.89,282.80L459.87,283.80L459.86,284.80L459.85,285.80L459.83,286.80L459.82,287.80L459.80,288.80L459.77,289.80L459.70,290.80L459.59,291.80L459.45,292.80L459.30,293.80L459.13,294.80L458.95,295.80L458.72,296.80L458.45,297.80L458.15,298.80L457.82,299.80L457.47,300.80L457.10,301.80L456.69,302.80L456.23,303.80L455.71,304.80L455.17,305.80L454.62,306.80L454.07,307.80L453.54,308.80L453.00,309.80L452.44,310.80L451.87,311.80L451.32,312.80L450.77,313.80L450.25,314.80L449.76,315.80L449.27,316.80L448.79,317.80L448.35,318.80L447.97,319.80L447.63,320.80L447.32,321.80L447.05,322.80L446.83,323.80L446.67,324.80L446.52,325.80L446.40,326.80L446.32,327.80L446.30,328.20L474.30,328.20L474.28,327.80L474.20,326.80L474.08,325.80L473.93,324.80L473.77,323.80L473.55,322.80L473.28,321.80L472.97,320.80L472.63,319.80L472.25,318.80L471.81,317.80L471.33,316.80L470.84,315.80L470.35,314.80L469.83,313.80L469.28,312.80L468.73,311.80L468.16,310.80L467.60,309.80L467.06,308.80L466.53,307.80L465.98,306.80L465.43,305.80L464.89,304.80L464.37,303.80L463.91,302.80L463.50,301.80L463.13,300.80L462.78,299.80L462.45,298.80L462.15,297.80L461.88,296.80L461.65,295.80L461.47,294.80L461.30,293.80L461.15,292.80L461.01,291.80L460.90,290.80L460.83,289.80L460.80,288.80L460.78,287.80L460.77,286.80L460.75,285.80L460.74,284.80L460.73,283.80L460.71,282.80L460.70,281.80L460.69,280.80L460.68,279.80L460.67,278.80L460.67,277.80L460.66,276.80L460.65,275.80L460.64,274.80L460.64,273.80L460.63,272.80L460.63,271.80L460.62,270.80L460.62,269.80L460.61,268.80L460.61,267.80L460.61,266.80L460.61,265.80L460.60,264.80L460.60,263.80L460.60,262.80L460.60,261.80L460.60,260.80L460.60,259.80L460.60,258.80L460.61,257.80L460.62,256.80L460.64,255.80L460.65,254.80L460.68,253.80L460.70,252.80L460.73,251.80L460.75,250.80L460.78,249.80L460.81,248.80L460.85,247.80L460.88,246.80L460.91,245.80L460.95,244.80L460.98,243.80L461.01,242.80L461.05,241.80L461.08,240.80L461.11,239.80L461.14,238.80L461.17,237.80L461.20,236.80L461.23,235.80L461.26,234.80L461.29,233.80L461.32,232.80L461.36,231.80L461.39,230.80L461.43,229.80L461.46,228.80L461.50,227.80L461.53,226.80L461.57,225.80L461.61,224.80L461.65,223.80L461.68,222.80L461.72,221.80L461.76,220.80L461.80,219.80Z" fill="#bcd6e9"/>
<path d="M515.50,219.80L515.51,220.80L515.52,221.80L515.53,222.80L515.55,223.80L515.56,224.80L515.57,225.80L515.58,226.80L515.59,227.80L515.60,228.80L515.61,229.80L515.62,230.80L515.63,231.80L515.64,232.80L515.65,233.80L515.66,234.80L515.67,235.80L515.68,236.80L515.69,237.80L515.70,238.80L515.71,239.80L515.72,240.80L515.72,241.80L515.73,242.80L515.74,243.80L515.74,244.80L515.75,245.80L515.76,246.80L515.76,247.80L515.77,248.80L515.77,249.80L515.78,250.80L515.78,251.80L515.79,252.80L515.79,253.80L515.79,254.80L515.80,255.80L515.80,256.80L515.80,257.80L515.80,258.80L515.80,259.80L515.80,260.80L515.80,261.80L515.80,262.80L515.80,263.80L515.80,264.80L515.80,265.80L515.80,266.80L515.80,267.80L515.80,268.80L515.80,269.80L515.80,270.80L515.80,271.80L515.80,272.80L515.80,273.80L515.80,274.80L515.80,275.80L515.80,276.80L515.80,277.80L515.80,278.80L515.80,279.80L515.80,280.80L515.80,281.80L515.80,282.80L515.80,283.80L515.80,284.80L515.80,285.80L515.80,286.80L515.80,287.80L515.80,288.80L515.80,289.80L515.80,290.80L515.80,291.80L515.80,292.80L515.80,293.80L515.78,294.80L515.72,295.80L515.61,296.80L515.46,297.80L515.28,298.80L515.06,299.80L514.82,300.80L514.56,301.80L514.29,302.80L514.00,303.80L513.71,304.80L513.41,305.80L513.06,306.80L512.64,307.80L512.16,308.80L511.64,309.80L511.08,310.80L510.49,311.80L509.87,312.80L509.24,313.80L508.51,314.80L507.69,315.80L506.86,316.80L506.10,317.80L505.37,318.80L504.68,319.80L504.09,320.80L503.54,321.80L503.10,322.80L502.71,323.80L502.40,324.80L502.30,325.80L502.30,326.80L502.30,327.80L502.30,328.30L530.30,328.30L530.30,327.80L530.30,326.80L530.30,325.80L530.20,324.80L529.89,323.80L529.50,322.80L529.06,321.80L528.51,320.80L527.92,319.80L527.23,318.80L526.50,317.80L525.74,316.80L524.91,315.80L524.09,314.80L523.36,313.80L522.73,312.80L522.11,311.80L521.52,310.80L520.96,309.80L520.44,308.80L519.96,307.80L519.54,306.80L519.19,305.80L518.89,304.80L518.60,303.80L518.31,302.80L518.04,301.80L517.78,300.80L517.54,299.80L517.32,298.80L517.14,297.80L516.99,296.80L516.88,295.80L516.82,294.80L516.80,293.80L516.80,292.80L516.80,291.80L516.80,290.80L516.80,289.80L516.80,288.80L516.80,287.80L516.80,286.80L516.80,285.80L516.80,284.80L516.80,283.80L516.80,282.80L516.80,281.80L516.80,280.80L516.80,279.80L516.80,278.80L516.80,277.80L516.80,276.80L516.80,275.80L516.80,274.80L516.80,273.80L516.80,272.80L516.80,271.80L516.80,270.80L516.80,269.80L516.80,268.80L516.80,267.80L516.80,266.80L516.80,265.80L516.80,264.80L516.80,263.80L516.80,262.80L516.80,261.80L516.80,260.80L516.80,259.80L516.80,258.80L516.80,257.80L516.80,256.80L516.80,255.80L516.81,254.80L516.81,253.80L516.81,252.80L516.82,251.80L516.82,250.80L516.83,249.80L516.83,248.80L516.84,247.80L516.84,246.80L516.85,245.80L516.86,244.80L516.86,243.80L516.87,242.80L516.88,241.80L516.88,240.80L516.89,239.80L516.90,238.80L516.91,237.80L516.92,236.80L516.93,235.80L516.94,234.80L516.95,233.80L516.96,232.80L516.97,231.80L516.98,230.80L516.99,229.80L517.00,228.80L517.01,227.80L517.02,226.80L517.03,225.80L517.04,224.80L517.05,223.80L517.07,222.80L517.08,221.80L517.09,220.80L517.10,219.80Z" fill="#bcd6e9"/>
<circle cx="348.30" cy="219.40" r="4.05" fill="none" stroke="#000" stroke-width="1.58"/>
<circle cx="348.30" cy="219.80" r="4.05" fill="none" stroke="#000" stroke-width="1.58"/>
<circle cx="348.30" cy="220.20" r="4.05" fill="none" stroke="#000" stroke-width="1.58"/>
<circle cx="348.30" cy="291.50" r="4.05" fill="none" stroke="#000" stroke-width="1.58"/>
<circle cx="348.30" cy="296.50" r="4.05" fill="none" stroke="#000" stroke-width="1.58"/>
<circle cx="348.30" cy="307.50" r="4.05" fill="none" stroke="#000" stroke-width="1.58"/>
<circle cx="348.30" cy="316.20" r="4.05" fill="none" stroke="#000" stroke-width="1.58"/>
<circle cx="348.30" cy="321.20" r="4.05" fill="none" stroke="#000" stroke-width="1.58"/>
<circle cx="348.30" cy="322.20" r="4.05" fill="none" stroke="#000" stroke-width="1.58"/>
<path d="M345.50,328.40H351.10" stroke="#ff7f0e" stroke-width="1.42" stroke-linecap="square" fill="none"/>
<path d="M404.30,265.00V219.00M402.90,219.00H405.70M402.90,328.30H405.70M401.50,328.30H407.10V265.00H401.50Z" fill="none" stroke="#000" stroke-width="1.42" stroke-linecap="square" stroke-linejoin="miter"/>
<path d="M401.50,327.00H407.10" stroke="#ff7f0e" stroke-width="1.42" stroke-linecap="square" fill="none"/>
<circle cx="460.30" cy="219.60" r="4.05" fill="none" stroke="#000" stroke-width="1.58"/>
<circle cx="460.30" cy="220.00" r="4.05" fill="none" stroke="#000" stroke-width="1.58"/>
<circle cx="460.30" cy="323.50" r="4.05" fill="none" stroke="#000" stroke-width="1.58"/>
<circle cx="460.30" cy="326.30" r="4.05" fill="none" stroke="#000" stroke-width="1.58"/>
<path d="M457.50,328.40H463.10" stroke="#ff7f0e" stroke-width="1.42" stroke-linecap="square" fill="none"/>
<circle cx="516.30" cy="219.80" r="4.05" fill="none" stroke="#000" stroke-width="1.58"/>
<circle cx="516.30" cy="248.70" r="4.05" fill="none" stroke="#000" stroke-width="1.58"/>
<circle cx="516.30" cy="292.00" r="4.05" fill="none" stroke="#000" stroke-width="1.58"/>
<circle cx="516.30" cy="308.00" r="4.05" fill="none" stroke="#000" stroke-width="1.58"/>
<circle cx="516.30" cy="319.20" r="4.05" fill="none" stroke="#000" stroke-width="1.58"/>
<circle cx="516.30" cy="319.70" r="4.05" fill="none" stroke="#000" stroke-width="1.58"/>
<circle cx="516.30" cy="320.20" r="4.05" fill="none" stroke="#000" stroke-width="1.58"/>
<circle cx="516.30" cy="320.70" r="4.05" fill="none" stroke="#000" stroke-width="1.58"/>
<circle cx="516.30" cy="321.20" r="4.05" fill="none" stroke="#000" stroke-width="1.58"/>
<circle cx="516.30" cy="321.70" r="4.05" fill="none" stroke="#000" stroke-width="1.58"/>
<circle cx="516.30" cy="322.10" r="4.05" fill="none" stroke="#000" stroke-width="1.58"/>
<path d="M513.50,328.40H519.10" stroke="#ff7f0e" stroke-width="1.42" stroke-linecap="square" fill="none"/>
<path d="M320.50,219.20h-4.5M320.50,241.13h-4.5M320.50,263.06h-4.5M320.50,284.99h-4.5M320.50,306.92h-4.5M348.35,333.50v4.4M404.35,333.50v4.4M460.35,333.50v4.4M516.35,333.50v4.4" stroke="#000" stroke-width="1.14" fill="none"/>
<text x="311.7" y="223.35" text-anchor="end" font-size="13.05">300</text>
<text x="311.7" y="245.28" text-anchor="end" font-size="13.05">240</text>
<text x="311.7" y="267.21" text-anchor="end" font-size="13.05">180</text>
<text x="311.7" y="289.14" text-anchor="end" font-size="13.05">120</text>
<text x="311.7" y="311.07" text-anchor="end" font-size="13.05">60</text>
<text x="348.5" y="351.1" text-anchor="middle" font-size="13.05">PASDA</text>
<text x="404.5" y="351.1" text-anchor="middle" font-size="13.05">ARDiff</text>
<text x="460.5" y="351.1" text-anchor="middle" font-size="13.05">DSE</text>
<text x="516.5" y="351.1" text-anchor="middle" font-size="13.05">PRV</text>
<rect x="320.50" y="213.50" width="224.00" height="120.00" fill="none" stroke="#000" stroke-width="1.14"/>
</g>
<g>
<text x="703.7" y="205.5" text-anchor="middle" font-size="15.3">NEQ cases, 3600 s timeout</text>
<path d="M619.50,219.00L619.51,220.00L619.52,221.00L619.53,222.00L619.54,223.00L619.56,224.00L619.57,225.00L619.58,226.00L619.59,227.00L619.60,228.00L619.61,229.00L619.62,230.00L619.63,231.00L619.64,232.00L619.65,233.00L619.66,234.00L619.67,235.00L619.68,236.00L619.69,237.00L619.69,238.00L619.70,239.00L619.71,240.00L619.72,241.00L619.73,242.00L619.73,243.00L619.74,244.00L619.75,245.00L619.75,246.00L619.76,247.00L619.77,248.00L619.77,249.00L619.78,250.00L619.78,251.00L619.78,252.00L619.79,253.00L619.79,254.00L619.79,255.00L619.80,256.00L619.80,257.00L619.80,258.00L619.80,259.00L619.80,260.00L619.80,261.00L619.80,262.00L619.80,263.00L619.80,264.00L619.80,265.00L619.80,266.00L619.80,267.00L619.80,268.00L619.80,269.00L619.80,270.00L619.80,271.00L619.80,272.00L619.80,273.00L619.80,274.00L619.80,275.00L619.80,276.00L619.80,277.00L619.80,278.00L619.80,279.00L619.80,280.00L619.80,281.00L619.80,282.00L619.80,283.00L619.80,284.00L619.80,285.00L619.80,286.00L619.80,287.00L619.80,288.00L619.80,289.00L619.80,290.00L619.80,291.00L619.80,292.00L619.80,293.00L619.80,294.00L619.80,295.00L619.80,296.00L619.80,297.00L619.75,298.00L619.62,299.00L619.43,300.00L619.18,301.00L618.90,302.00L618.60,303.00L618.31,304.00L618.03,305.00L617.78,306.00L617.55,307.00L617.28,308.00L616.94,309.00L616.41,310.00L615.69,311.00L614.89,312.00L614.06,313.00L613.30,314.00L612.60,315.00L611.89,316.00L611.19,317.00L610.51,318.00L609.85,319.00L609.22,320.00L608.60,321.00L608.05,322.00L607.58,323.00L607.18,324.00L606.84,325.00L606.54,326.00L606.28,327.00L606.07,328.00L606.00,328.40L634.60,328.40L634.53,328.00L634.32,327.00L634.06,326.00L633.76,325.00L633.42,324.00L633.02,323.00L632.55,322.00L632.00,321.00L631.38,320.00L630.75,319.00L630.09,318.00L629.41,317.00L628.71,316.00L628.00,315.00L627.30,314.00L626.54,313.00L625.71,312.00L624.91,311.00L624.19,310.00L623.66,309.00L623.32,308.00L623.05,307.00L622.82,306.00L622.57,305.00L622.29,304.00L622.00,303.00L621.70,302.00L621.42,301.00L621.17,300.00L620.98,299.00L620.85,298.00L620.80,297.00L620.80,296.00L620.80,295.00L620.80,294.00L620.80,293.00L620.80,292.00L620.80,291.00L620.80,290.00L620.80,289.00L620.80,288.00L620.80,287.00L620.80,286.00L620.80,285.00L620.80,284.00L620.80,283.00L620.80,282.00L620.80,281.00L620.80,280.00L620.80,279.00L620.80,278.00L620.80,277.00L620.80,276.00L620.80,275.00L620.80,274.00L620.80,273.00L620.80,272.00L620.80,271.00L620.80,270.00L620.80,269.00L620.80,268.00L620.80,267.00L620.80,266.00L620.80,265.00L620.80,264.00L620.80,263.00L620.80,262.00L620.80,261.00L620.80,260.00L620.80,259.00L620.80,258.00L620.80,257.00L620.80,256.00L620.81,255.00L620.81,254.00L620.81,253.00L620.82,252.00L620.82,251.00L620.82,250.00L620.83,249.00L620.83,248.00L620.84,247.00L620.85,246.00L620.85,245.00L620.86,244.00L620.87,243.00L620.87,242.00L620.88,241.00L620.89,240.00L620.90,239.00L620.91,238.00L620.91,237.00L620.92,236.00L620.93,235.00L620.94,234.00L620.95,233.00L620.96,232.00L620.97,231.00L620.98,230.00L620.99,229.00L621.00,228.00L621.01,227.00L621.02,226.00L621.03,225.00L621.04,224.00L621.06,223.00L621.07,222.00L621.08,221.00L621.09,220.00L621.10,219.00Z" fill="#bcd6e9"/>
<path d="M672.80,219.00L672.80,220.00L672.80,221.00L672.80,222.00L672.80,223.00L672.80,224.00L672.80,225.00L672.80,226.00L672.80,227.00L672.80,228.00L672.80,229.00L672.80,230.00L672.81,231.00L672.84,232.00L672.90,233.00L672.96,234.00L673.04,235.00L673.14,236.00L673.24,237.00L673.35,238.00L673.46,239.00L673.58,240.00L673.69,241.00L673.81,242.00L673.91,243.00L674.01,244.00L674.10,245.00L674.19,246.00L674.29,247.00L674.40,248.00L674.50,249.00L674.60,250.00L674.69,251.00L674.75,252.00L674.79,253.00L674.80,254.00L674.79,255.00L674.78,256.00L674.77,257.00L674.74,258.00L674.72,259.00L674.69,260.00L674.65,261.00L674.62,262.00L674.58,263.00L674.54,264.00L674.50,265.00L674.45,266.00L674.37,267.00L674.27,268.00L674.18,269.00L674.08,270.00L674.00,271.00L673.93,272.00L673.90,273.00L673.89,274.00L673.88,275.00L673.87,276.00L673.86,277.00L673.86,278.00L673.85,279.00L673.85,280.00L673.84,281.00L673.84,282.00L673.83,283.00L673.82,284.00L673.80,285.00L673.74,286.00L673.59,287.00L673.39,288.00L673.14,289.00L672.87,290.00L672.60,291.00L672.35,292.00L672.09,293.00L671.81,294.00L671.51,295.00L671.20,296.00L670.88,297.00L670.56,298.00L670.23,299.00L669.88,300.00L669.52,301.00L669.14,302.00L668.78,303.00L668.42,304.00L668.09,305.00L667.80,306.00L667.54,307.00L667.29,308.00L667.00,309.00L666.66,310.00L666.28,311.00L665.88,312.00L665.47,313.00L665.08,314.00L664.73,315.00L664.39,316.00L664.04,317.00L663.71,318.00L663.40,319.00L663.12,320.00L662.89,321.00L662.72,322.00L662.55,323.00L662.40,324.00L662.26,325.00L662.15,326.00L662.06,327.00L662.01,328.00L662.00,328.20L690.60,328.20L690.59,328.00L690.54,327.00L690.45,326.00L690.34,325.00L690.20,324.00L690.05,323.00L689.88,322.00L689.71,321.00L689.48,320.00L689.20,319.00L688.89,318.00L688.56,317.00L688.21,316.00L687.87,315.00L687.52,314.00L687.13,313.00L686.72,312.00L686.32,311.00L685.94,310.00L685.60,309.00L685.31,308.00L685.06,307.00L684.80,306.00L684.51,305.00L684.18,304.00L683.82,303.00L683.46,302.00L683.08,301.00L682.72,300.00L682.37,299.00L682.04,298.00L681.72,297.00L681.40,296.00L681.09,295.00L680.79,294.00L680.51,293.00L680.25,292.00L680.00,291.00L679.73,290.00L679.46,289.00L679.21,288.00L679.01,287.00L678.86,286.00L678.80,285.00L678.78,284.00L678.77,283.00L678.76,282.00L678.76,281.00L678.75,280.00L678.75,279.00L678.74,278.00L678.74,277.00L678.73,276.00L678.72,275.00L678.71,274.00L678.70,273.00L678.67,272.00L678.60,271.00L678.52,270.00L678.42,269.00L678.33,268.00L678.23,267.00L678.15,266.00L678.10,265.00L678.06,264.00L678.02,263.00L677.98,262.00L677.95,261.00L677.91,260.00L677.88,259.00L677.86,258.00L677.83,257.00L677.82,256.00L677.81,255.00L677.80,254.00L677.81,253.00L677.85,252.00L677.91,251.00L678.00,250.00L678.10,249.00L678.20,248.00L678.31,247.00L678.41,246.00L678.50,245.00L678.59,244.00L678.69,243.00L678.79,242.00L678.91,241.00L679.02,240.00L679.14,239.00L679.25,238.00L679.36,237.00L679.46,236.00L679.56,235.00L679.64,234.00L679.70,233.00L679.76,232.00L679.79,231.00L679.80,230.00L679.80,229.00L679.80,228.00L679.80,227.00L679.80,226.00L679.80,225.00L679.80,224.00L679.80,223.00L679.80,222.00L679.80,221.00L679.80,220.00L679.80,219.00Z" fill="#bcd6e9"/>
<path d="M731.30,219.00L731.32,220.00L731.35,221.00L731.37,222.00L731.39,223.00L731.42,224.00L731.44,225.00L731.46,226.00L731.49,227.00L731.51,228.00L731.53,229.00L731.55,230.00L731.57,231.00L731.59,232.00L731.61,233.00L731.63,234.00L731.65,235.00L731.67,236.00L731.68,237.00L731.70,238.00L731.71,239.00L731.73,240.00L731.74,241.00L731.75,242.00L731.76,243.00L731.77,244.00L731.78,245.00L731.79,246.00L731.79,247.00L731.80,248.00L731.80,249.00L731.80,250.00L731.80,251.00L731.80,252.00L731.80,253.00L731.80,254.00L731.80,255.00L731.80,256.00L731.80,257.00L731.80,258.00L731.80,259.00L731.80,260.00L731.80,261.00L731.80,262.00L731.80,263.00L731.80,264.00L731.80,265.00L731.80,266.00L731.80,267.00L731.80,268.00L731.80,269.00L731.80,270.00L731.80,271.00L731.80,272.00L731.80,273.00L731.80,274.00L731.80,275.00L731.80,276.00L731.80,277.00L731.80,278.00L731.80,279.00L731.80,280.00L731.80,281.00L731.80,282.00L731.80,283.00L731.80,284.00L731.80,285.00L731.80,286.00L731.80,287.00L731.80,288.00L731.80,289.00L731.77,290.00L731.70,291.00L731.59,292.00L731.45,293.00L731.29,294.00L731.12,295.00L730.94,296.00L730.77,297.00L730.60,298.00L730.44,299.00L730.27,300.00L730.09,301.00L729.89,302.00L729.67,303.00L729.42,304.00L729.15,305.00L728.83,306.00L728.39,307.00L727.85,308.00L727.23,309.00L726.57,310.00L725.89,311.00L725.23,312.00L724.60,313.00L724.04,314.00L723.48,315.00L722.92,316.00L722.37,317.00L721.83,318.00L721.32,319.00L720.84,320.00L720.41,321.00L720.03,322.00L719.68,323.00L719.36,324.00L719.06,325.00L718.79,326.00L718.54,327.00L718.34,328.00L718.30,328.20L746.30,328.20L746.26,328.00L746.06,327.00L745.81,326.00L745.54,325.00L745.24,324.00L744.92,323.00L744.57,322.00L744.19,321.00L743.76,320.00L743.28,319.00L742.77,318.00L742.23,317.00L741.68,316.00L741.12,315.00L740.56,314.00L740.00,313.00L739.37,312.00L738.71,311.00L738.03,310.00L737.37,309.00L736.75,308.00L736.21,307.00L735.77,306.00L735.45,305.00L735.18,304.00L734.93,303.00L734.71,302.00L734.51,301.00L734.33,300.00L734.16,299.00L734.00,298.00L733.83,297.00L733.66,296.00L733.48,295.00L733.31,294.00L733.15,293.00L733.01,292.00L732.90,291.00L732.83,290.00L732.80,289.00L732.80,288.00L732.80,287.00L732.80,286.00L732.80,285.00L732.80,284.00L732.80,283.00L732.80,282.00L732.80,281.00L732.80,280.00L732.80,279.00L732.80,278.00L732.80,277.00L732.80,276.00L732.80,275.00L732.80,274.00L732.80,273.00L732.80,272.00L732.80,271.00L732.80,270.00L732.80,269.00L732.80,268.00L732.80,267.00L732.80,266.00L732.80,265.00L732.80,264.00L732.80,263.00L732.80,262.00L732.80,261.00L732.80,260.00L732.80,259.00L732.80,258.00L732.80,257.00L732.80,256.00L732.80,255.00L732.80,254.00L732.80,253.00L732.80,252.00L732.80,251.00L732.80,250.00L732.80,249.00L732.80,248.00L732.81,247.00L732.81,246.00L732.82,245.00L732.83,244.00L732.84,243.00L732.85,242.00L732.86,241.00L732.87,240.00L732.89,239.00L732.90,238.00L732.92,237.00L732.93,236.00L732.95,235.00L732.97,234.00L732.99,233.00L733.01,232.00L733.03,231.00L733.05,230.00L733.07,229.00L733.09,228.00L733.11,227.00L733.14,226.00L733.16,225.00L733.18,224.00L733.21,223.00L733.23,222.00L733.25,221.00L733.28,220.00L733.30,219.00Z" fill="#bcd6e9"/>
<path d="M787.80,219.00L787.81,220.00L787.81,221.00L787.82,222.00L787.83,223.00L787.83,224.00L787.84,225.00L787.85,226.00L787.85,227.00L787.86,228.00L787.87,229.00L787.87,230.00L787.88,231.00L787.88,232.00L787.89,233.00L787.89,234.00L787.90,235.00L787.90,236.00L787.91,237.00L787.91,238.00L787.91,239.00L787.92,240.00L787.92,241.00L787.93,242.00L787.93,243.00L787.93,244.00L787.94,245.00L787.94,246.00L787.94,247.00L787.95,248.00L787.95,249.00L787.95,250.00L787.96,251.00L787.96,252.00L787.96,253.00L787.96,254.00L787.97,255.00L787.97,256.00L787.97,257.00L787.97,258.00L787.97,259.00L787.98,260.00L787.98,261.00L787.98,262.00L787.98,263.00L787.98,264.00L787.98,265.00L787.99,266.00L787.99,267.00L787.99,268.00L787.99,269.00L787.99,270.00L787.99,271.00L787.99,272.00L787.99,273.00L787.99,274.00L787.99,275.00L787.99,276.00L788.00,277.00L788.00,278.00L788.00,279.00L788.00,280.00L788.00,281.00L788.00,282.00L788.00,283.00L788.00,284.00L788.00,285.00L788.00,286.00L788.00,287.00L788.00,288.00L788.00,289.00L788.00,290.00L788.00,291.00L788.00,292.00L788.00,293.00L788.00,294.00L788.00,295.00L788.00,296.00L788.00,297.00L788.00,298.00L788.00,299.00L788.00,300.00L787.99,301.00L787.96,302.00L787.92,303.00L787.86,304.00L787.79,305.00L787.71,306.00L787.61,307.00L787.50,308.00L787.31,309.00L786.98,310.00L786.55,311.00L786.04,312.00L785.49,313.00L784.92,314.00L784.21,315.00L783.32,316.00L782.17,317.00L780.88,318.00L779.64,319.00L778.56,320.00L777.54,321.00L776.67,322.00L775.96,323.00L775.36,324.00L774.95,325.00L774.66,326.00L774.43,327.00L774.31,328.00L774.30,328.30L802.30,328.30L802.29,328.00L802.17,327.00L801.94,326.00L801.65,325.00L801.24,324.00L800.64,323.00L799.93,322.00L799.06,321.00L798.04,320.00L796.96,319.00L795.72,318.00L794.43,317.00L793.28,316.00L792.39,315.00L791.68,314.00L791.11,313.00L790.56,312.00L790.05,311.00L789.62,310.00L789.29,309.00L789.10,308.00L788.99,307.00L788.89,306.00L788.81,305.00L788.74,304.00L788.68,303.00L788.64,302.00L788.61,301.00L788.60,300.00L788.60,299.00L788.60,298.00L788.60,297.00L788.60,296.00L788.60,295.00L788.60,294.00L788.60,293.00L788.60,292.00L788.60,291.00L788.60,290.00L788.60,289.00L788.60,288.00L788.60,287.00L788.60,286.00L788.60,285.00L788.60,284.00L788.60,283.00L788.60,282.00L788.60,281.00L788.60,280.00L788.60,279.00L788.60,278.00L788.60,277.00L788.61,276.00L788.61,275.00L788.61,274.00L788.61,273.00L788.61,272.00L788.61,271.00L788.61,270.00L788.61,269.00L788.61,268.00L788.61,267.00L788.61,266.00L788.62,265.00L788.62,264.00L788.62,263.00L788.62,262.00L788.62,261.00L788.62,260.00L788.63,259.00L788.63,258.00L788.63,257.00L788.63,256.00L788.63,255.00L788.64,254.00L788.64,253.00L788.64,252.00L788.64,251.00L788.65,250.00L788.65,249.00L788.65,248.00L788.66,247.00L788.66,246.00L788.66,245.00L788.67,244.00L788.67,243.00L788.67,242.00L788.68,241.00L788.68,240.00L788.69,239.00L788.69,238.00L788.69,237.00L788.70,236.00L788.70,235.00L788.71,234.00L788.71,233.00L788.72,232.00L788.72,231.00L788.73,230.00L788.73,229.00L788.74,228.00L788.75,227.00L788.75,226.00L788.76,225.00L788.77,224.00L788.77,223.00L788.78,222.00L788.79,221.00L788.79,220.00L788.80,219.00Z" fill="#bcd6e9"/>
<circle cx="620.30" cy="219.00" r="4.05" fill="none" stroke="#000" stroke-width="1.58"/>
<circle cx="620.30" cy="274.60" r="4.05" fill="none" stroke="#000" stroke-width="1.58"/>
<circle cx="620.30" cy="301.70" r="4.05" fill="none" stroke="#000" stroke-width="1.58"/>
<circle cx="620.30" cy="313.70" r="4.05" fill="none" stroke="#000" stroke-width="1.58"/>
<circle cx="620.30" cy="319.30" r="4.05" fill="none" stroke="#000" stroke-width="1.58"/>
<circle cx="620.30" cy="326.00" r="4.05" fill="none" stroke="#000" stroke-width="1.58"/>
<circle cx="620.30" cy="326.60" r="4.05" fill="none" stroke="#000" stroke-width="1.58"/>
<circle cx="620.30" cy="327.10" r="4.05" fill="none" stroke="#000" stroke-width="1.58"/>
<path d="M617.50,328.40H623.10" stroke="#ff7f0e" stroke-width="1.42" stroke-linecap="square" fill="none"/>
<path d="M676.30,310.70V291.50M674.90,291.50H677.70M674.90,328.30H677.70M673.50,328.30H679.10V310.70H673.50Z" fill="none" stroke="#000" stroke-width="1.42" stroke-linecap="square" stroke-linejoin="miter"/>
<circle cx="676.30" cy="218.60" r="4.05" fill="none" stroke="#000" stroke-width="1.58"/>
<circle cx="676.30" cy="219.00" r="4.05" fill="none" stroke="#000" stroke-width="1.58"/>
<circle cx="676.30" cy="219.40" r="4.05" fill="none" stroke="#000" stroke-width="1.58"/>
<circle cx="676.30" cy="277.60" r="4.05" fill="none" stroke="#000" stroke-width="1.58"/>
<circle cx="676.30" cy="278.00" r="4.05" fill="none" stroke="#000" stroke-width="1.58"/>
<circle cx="676.30" cy="279.90" r="4.05" fill="none" stroke="#000" stroke-width="1.58"/>
<path d="M673.50,328.30H679.10" stroke="#ff7f0e" stroke-width="1.42" stroke-linecap="square" fill="none"/>
<circle cx="732.30" cy="218.80" r="4.05" fill="none" stroke="#000" stroke-width="1.58"/>
<circle cx="732.30" cy="219.20" r="4.05" fill="none" stroke="#000" stroke-width="1.58"/>
<circle cx="732.30" cy="279.20" r="4.05" fill="none" stroke="#000" stroke-width="1.58"/>
<circle cx="732.30" cy="307.60" r="4.05" fill="none" stroke="#000" stroke-width="1.58"/>
<circle cx="732.30" cy="328.00" r="4.05" fill="none" stroke="#000" stroke-width="1.58"/>
<path d="M729.50,328.40H735.10" stroke="#ff7f0e" stroke-width="1.42" stroke-linecap="square" fill="none"/>
<circle cx="788.30" cy="219.00" r="4.05" fill="none" stroke="#000" stroke-width="1.58"/>
<circle cx="788.30" cy="312.70" r="4.05" fill="none" stroke="#000" stroke-width="1.58"/>
<circle cx="788.30" cy="322.00" r="4.05" fill="none" stroke="#000" stroke-width="1.58"/>
<circle cx="788.30" cy="324.40" r="4.05" fill="none" stroke="#000" stroke-width="1.58"/>
<circle cx="788.30" cy="325.40" r="4.05" fill="none" stroke="#000" stroke-width="1.58"/>
<circle cx="788.30" cy="325.90" r="4.05" fill="none" stroke="#000" stroke-width="1.58"/>
<circle cx="788.30" cy="326.40" r="4.05" fill="none" stroke="#000" stroke-width="1.58"/>
<circle cx="788.30" cy="326.90" r="4.05" fill="none" stroke="#000" stroke-width="1.58"/>
<circle cx="788.30" cy="327.40" r="4.05" fill="none" stroke="#000" stroke-width="1.58"/>
<path d="M785.50,328.40H791.10" stroke="#ff7f0e" stroke-width="1.42" stroke-linecap="square" fill="none"/>
<path d="M592.50,219.20h-4.5M592.50,241.13h-4.5M592.50,263.06h-4.5M592.50,284.99h-4.5M592.50,306.92h-4.5M620.35,333.50v4.4M676.35,333.50v4.4M732.35,333.50v4.4M788.35,333.50v4.4" stroke="#000" stroke-width="1.14" fill="none"/>
<text x="583.7" y="223.35" text-anchor="end" font-size="13.05">3600</text>
<text x="583.7" y="245.28" text-anchor="end" font-size="13.05">2880</text>
<text x="583.7" y="267.21" text-anchor="end" font-size="13.05">2160</text>
<text x="583.7" y="289.14" text-anchor="end" font-size="13.05">1440</text>
<text x="583.7" y="311.07" text-anchor="end" font-size="13.05">720</text>
<text x="620.5" y="351.1" text-anchor="middle" font-size="13.05">PASDA</text>
<text x="676.5" y="351.1" text-anchor="middle" font-size="13.05">ARDiff</text>
<text x="732.5" y="351.1" text-anchor="middle" font-size="13.05">DSE</text>
<text x="788.5" y="351.1" text-anchor="middle" font-size="13.05">PRV</text>
<rect x="592.50" y="213.50" width="224.00" height="120.00" fill="none" stroke="#000" stroke-width="1.14"/>
</g>
</svg>
</body></html>
